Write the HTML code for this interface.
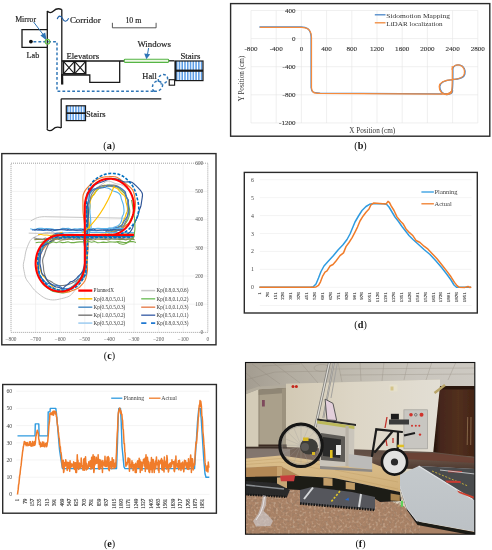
<!DOCTYPE html>
<html><head><meta charset="utf-8"><title>Figure</title>
<style>
html,body{margin:0;padding:0;background:#fff;}
body{width:492px;height:550px;overflow:hidden;}
svg{display:block;}
</style></head><body>
<svg width="492" height="550" viewBox="0 0 492 550" font-family='"Liberation Serif", serif'>
<rect width="492" height="550" fill="#fff"/>
<!--A-->
<rect x="230.6" y="3.6" width="259.2" height="132.6" fill="#fff" stroke="#2b2b2b" stroke-width="1.4"/>
<g stroke="#e4e4e4" stroke-width="0.6" fill="none">
<path d="M251.00,10.48 V122.96"/>
<path d="M276.20,10.48 V122.96"/>
<path d="M301.40,10.48 V122.96"/>
<path d="M326.60,10.48 V122.96"/>
<path d="M351.80,10.48 V122.96"/>
<path d="M377.00,10.48 V122.96"/>
<path d="M402.20,10.48 V122.96"/>
<path d="M427.40,10.48 V122.96"/>
<path d="M452.60,10.48 V122.96"/>
<path d="M477.80,10.48 V122.96"/>
<path d="M251.00,122.96 H477.80"/>
<path d="M251.00,94.84 H477.80"/>
<path d="M251.00,66.72 H477.80"/>
<path d="M251.00,38.60 H477.80"/>
<path d="M251.00,10.48 H477.80"/>
</g>
<path d="M259.42,27.00 L299.74,27.00 C306.04,26.65 310.76,28.41 311.08,36.84 L311.08,87.46 C311.39,92.38 312.97,92.73 319.90,93.08 L441.49,93.79 L441.5,93.3" fill="none" stroke="#4a8ad0" stroke-width="1.3"/>
<path d="M442.10,93.60 C446.60,93.80 449.60,94.50 452.10,91.00 C453.10,88.00 452.90,72.00 452.90,68.50 C453.60,65.50 457.10,64.50 460.10,65.20 C464.10,66.20 465.80,70.00 464.90,74.00 C464.10,78.00 458.60,79.30 452.60,79.60 C446.60,80.00 440.40,81.50 439.80,86.50 C439.60,91.00 443.10,94.60 447.10,94.60 C450.10,94.60 452.40,93.00 452.80,90.50" fill="none" stroke="#4a86c8" stroke-width="1.3"/>
<path d="M259.82,27.35 L300.14,27.35 C306.44,27.00 311.16,28.76 311.48,37.19 L311.48,87.81 C311.79,92.73 313.37,93.08 320.30,93.43 L441.89,94.14 L441.5,93.6" fill="none" stroke="#f68b3c" stroke-width="1.25"/>
<path d="M441.50,93.60 C446.00,93.80 449.00,94.50 451.50,91.00 C452.50,88.00 452.30,72.00 452.30,68.50 C453.00,65.50 456.50,64.50 459.50,65.20 C463.50,66.20 465.20,70.00 464.30,74.00 C463.50,78.00 458.00,79.30 452.00,79.60 C446.00,80.00 439.80,81.50 439.20,86.50 C439.00,91.00 442.50,94.60 446.50,94.60 C449.50,94.60 451.80,93.00 452.20,90.50" fill="none" stroke="#f68b3c" stroke-width="1.25"/>
<path d="M452.2,66 V70" stroke="#f68b3c" stroke-width="1.1"/>
<g font-family='"Liberation Serif", serif' stroke="#333" stroke-width="0.12">
<text x="295.60" y="12.88" font-size="7.1" text-anchor="end" fill="#333" font-weight="normal">400</text>
<text x="295.60" y="41.00" font-size="7.1" text-anchor="end" fill="#333" font-weight="normal">0</text>
<text x="295.60" y="69.12" font-size="7.1" text-anchor="end" fill="#333" font-weight="normal">-400</text>
<text x="295.60" y="97.24" font-size="7.1" text-anchor="end" fill="#333" font-weight="normal">-800</text>
<text x="295.60" y="125.36" font-size="7.1" text-anchor="end" fill="#333" font-weight="normal">-1200</text>
<text x="251.00" y="51.00" font-size="7.1" text-anchor="middle" fill="#333" font-weight="normal">-800</text>
<text x="276.20" y="51.00" font-size="7.1" text-anchor="middle" fill="#333" font-weight="normal">-400</text>
<text x="301.40" y="51.00" font-size="7.1" text-anchor="middle" fill="#333" font-weight="normal">0</text>
<text x="326.60" y="51.00" font-size="7.1" text-anchor="middle" fill="#333" font-weight="normal">400</text>
<text x="351.80" y="51.00" font-size="7.1" text-anchor="middle" fill="#333" font-weight="normal">800</text>
<text x="377.00" y="51.00" font-size="7.1" text-anchor="middle" fill="#333" font-weight="normal">1200</text>
<text x="402.20" y="51.00" font-size="7.1" text-anchor="middle" fill="#333" font-weight="normal">1600</text>
<text x="427.40" y="51.00" font-size="7.1" text-anchor="middle" fill="#333" font-weight="normal">2000</text>
<text x="452.60" y="51.00" font-size="7.1" text-anchor="middle" fill="#333" font-weight="normal">2400</text>
<text x="477.80" y="51.00" font-size="7.1" text-anchor="middle" fill="#333" font-weight="normal">2800</text>
</g>
<text x="372.20" y="133.20" font-size="7.2" text-anchor="middle" fill="#333" font-weight="normal" textLength="46" lengthAdjust="spacingAndGlyphs">X Position (cm)</text>
<text x="0" y="0" font-size="7.2" fill="#333" text-anchor="middle" textLength="45.4" lengthAdjust="spacingAndGlyphs" transform="translate(244.3,78.6) rotate(-90)">Y Position (cm)</text>
<path d="M374.8,14.8 H385.5" stroke="#4a86c8" stroke-width="1.3"/>
<path d="M374.8,22.8 H385.5" stroke="#f0883a" stroke-width="1.3"/>
<text x="386.30" y="17.90" font-size="7.1" text-anchor="start" fill="#333" font-weight="normal" textLength="63.6" lengthAdjust="spacingAndGlyphs">Sidomotion Mapping</text>
<text x="386.30" y="25.90" font-size="7.1" text-anchor="start" fill="#333" font-weight="normal" textLength="56.3" lengthAdjust="spacingAndGlyphs">LiDAR localization</text>
<rect x="1.8" y="153.6" width="214.2" height="191.2" fill="#fff" stroke="#2b2b2b" stroke-width="1.4"/>
<g stroke="#e6e6e6" stroke-width="0.5" fill="none">
<path d="M35.60,163.20 V332.40"/>
<path d="M60.20,163.20 V332.40"/>
<path d="M84.80,163.20 V332.40"/>
<path d="M109.40,163.20 V332.40"/>
<path d="M134.00,163.20 V332.40"/>
<path d="M158.60,163.20 V332.40"/>
<path d="M183.20,163.20 V332.40"/>
<path d="M11.00,304.20 H207.80"/>
<path d="M11.00,276.00 H207.80"/>
<path d="M11.00,247.80 H207.80"/>
<path d="M11.00,219.60 H207.80"/>
<path d="M11.00,191.40 H207.80"/>
</g>
<rect x="11.00" y="163.20" width="196.80" height="169.20" fill="none" stroke="#7a7a7a" stroke-width="0.7" stroke-dasharray="1 1"/>
<path d="M28.71,233.14 L134.01,235.47 L131.47,235.45 L128.95,235.45 L126.47,235.45 L124.01,235.47 L121.57,235.48 L119.11,235.49 L116.62,235.48 L114.10,235.46 L111.56,235.42 L109.04,235.38 L106.55,235.34 L104.10,235.30 L101.66,235.28 L99.21,235.26 L96.74,235.26 L94.25,235.27 L91.75,235.30 L89.27,235.33 L86.83,235.37 L84.43,235.42 L82.04,235.48 L79.65,235.54 L77.23,235.59 L74.78,235.65 L72.29,235.69 L69.81,235.71 L67.34,235.71 L64.89,235.69 L62.45,235.65 L54.57,232.73 L52.68,232.47 L50.66,232.32 L48.56,232.33 L46.49,232.51 L44.53,232.88 L42.74,233.41 L41.09,234.07 L39.51,234.79 L37.94,235.54 L36.37,236.28 L34.84,237.01 L33.42,237.73 L32.20,238.49 L31.19,239.36 L30.37,240.39 L29.64,241.65 L28.92,243.14 L28.16,244.86 L27.37,246.77 L26.63,248.81 L26.00,250.89 L25.53,252.93 L25.19,254.88 L24.90,256.70 L24.61,258.39 L24.25,259.99 L23.87,261.53 L23.54,263.07 L23.34,264.65 L23.34,266.31 L23.53,268.05 L23.85,269.84 L24.21,271.66 L24.56,273.45 L24.91,275.17 L25.31,276.80 L25.85,278.32 L26.58,279.75 L27.48,281.09 L28.48,282.39 L29.50,283.67 L30.48,284.95 L31.40,286.24 L32.34,287.55 L33.36,288.86 L34.55,290.17 L35.90,291.47 L37.37,292.73 L38.88,293.94 L40.37,295.10 L41.83,296.19 L43.30,297.19 L44.87,298.07 L46.60,298.81 L48.49,299.37 L50.49,299.75 L52.49,299.93 L54.41,299.92 L56.22,299.74 L57.93,299.45 L59.62,299.08 L61.34,298.66 L63.10,298.23 L64.85,297.78 L66.51,297.31 L68.00,296.77 L69.29,296.12 L70.43,295.32 L71.50,294.34 L72.59,293.17 L73.74,291.84 L74.92,290.41 L76.08,288.93 L77.14,287.48 L78.07,286.12 L78.91,284.86 L79.72,283.72 L80.58,282.66 L81.53,281.61 L82.53,280.52 L83.51,279.29 L84.36,277.90 L85.04,276.31 L85.54,274.53 L85.94,272.61 L86.29,270.61 L86.65,268.58 L86.99,266.58 L87.25,264.66 L87.40,261.16 L87.42,257.72 L87.34,254.32 L87.22,250.91 L87.16,247.45 L87.21,243.91 L87.37,240.30 L87.59,236.61 L87.77,232.89 L85.40,232.55 L85.40,229.70 L85.35,226.91 L85.34,224.20 L85.42,221.58 L85.59,219.03 L85.79,216.56 L85.93,214.14 L85.94,211.77 L85.82,209.42 L85.63,207.10 L85.48,206.04 L85.49,204.98 L85.67,203.90 L86.00,202.77 L86.39,201.59 L86.80,200.34 L87.20,199.01 L87.64,197.63 L88.22,196.21 L89.00,194.80 L90.00,193.44 L91.17,192.17 L92.42,191.01 L93.66,189.98 L94.84,189.05 L95.99,188.19 L97.16,187.36 L98.43,186.53 L99.79,185.65 L101.21,184.74 L102.60,183.82 L103.89,182.93 L105.02,182.15 L106.03,181.54 L107.00,181.14 L108.02,181.00 L109.13,181.09 L110.32,181.39 L111.53,181.83 L112.67,182.34 L113.72,182.83 L114.70,183.27 L115.69,183.61 L116.75,183.86 L117.93,184.07 L119.22,184.28 L120.54,184.55 L121.78,184.94 L122.90,185.47 L123.89,186.15 L124.81,186.95 L125.74,187.84 L126.72,188.77 L127.74,189.71 L128.73,190.61 L129.63,191.46 L130.36,192.29 L130.93,193.12 L131.41,193.98 L131.88,194.91 L132.41,195.94 L133.00,197.08 L133.59,198.34 L134.10,199.71 L134.46,201.17 L134.65,202.71 L134.72,204.29 L134.75,205.90 L134.78,207.54 L134.83,209.17 L134.85,210.79 L134.73,212.37 L134.41,213.89 L133.87,215.33 L133.16,216.66 L132.38,217.88 L131.60,219.00 L130.86,220.02 L130.12,220.99 L129.33,221.94 L128.43,222.89 L127.40,223.86 L126.30,224.85 L125.21,225.84 L124.22,226.79 L123.37,227.66 L122.62,228.40 L121.88,228.99 L121.09,229.43 L120.18,229.72 L119.19,229.93 L118.17,230.11 L117.20,230.32 L116.31,230.61 L115.45,231.01 L114.55,231.51 L113.54,232.06 L112.36,232.61 L111.04,233.08 L110.96,233.43 L110.91,233.64 L110.94,233.70 L111.05,233.60 L111.17,233.38 L111.23,233.11 L111.19,232.84 L111.06,232.62 L110.92,232.48 L110.85,232.44 L110.91,232.46" fill="none" stroke="#bdbdbd" stroke-width="0.9" stroke-linejoin="round" opacity="1"/>
<path d="M30.68,221.01 C35.60,218.19 38.06,216.22 47.90,216.78 L126.62,218.19" fill="none" stroke="#bdbdbd" stroke-width="0.9"/>
<path d="M133.77,236.01 L131.32,236.01 L128.89,236.01 L126.48,236.00 L124.09,235.99 L121.71,235.98 L119.35,235.99 L116.98,236.03 L114.60,236.09 L112.21,236.18 L109.79,236.27 L107.36,236.34 L104.90,236.39 L102.44,236.41 L99.96,236.42 L97.49,236.41 L95.02,236.41 L92.55,236.42 L90.10,236.43 L87.65,236.44 L85.21,236.43 L82.77,236.39 L80.33,236.34 L77.90,236.29 L75.45,236.26 L73.01,236.24 L70.56,236.26 L68.12,236.29 L65.67,236.32 L63.22,236.35 L63.36,234.34 L62.03,234.36 L60.69,234.43 L59.33,234.61 L57.94,234.95 L56.51,235.44 L55.07,236.05 L53.60,236.71 L52.14,237.39 L50.71,238.05 L49.33,238.73 L48.03,239.49 L46.83,240.42 L45.74,241.54 L44.76,242.86 L43.88,244.31 L43.09,245.82 L42.35,247.32 L41.65,248.77 L40.96,250.17 L40.26,251.57 L39.56,253.01 L38.85,254.52 L38.16,256.08 L37.51,257.62 L36.93,259.09 L36.44,260.42 L36.07,261.63 L35.83,262.74 L35.73,263.85 L35.76,265.03 L35.90,266.32 L36.15,267.73 L36.47,269.19 L36.86,270.66 L37.30,272.07 L37.78,273.41 L38.30,274.72 L38.87,276.05 L39.49,277.44 L40.16,278.89 L40.90,280.38 L41.69,281.82 L42.54,283.15 L43.44,284.30 L44.38,285.28 L45.36,286.13 L46.36,286.92 L47.40,287.72 L48.47,288.55 L49.59,289.38 L50.76,290.17 L52.00,290.85 L53.31,291.38 L54.69,291.76 L56.12,292.03 L57.60,292.26 L59.08,292.48 L60.56,292.70 L61.99,292.87 L63.36,292.91 L64.66,292.76 L65.87,292.37 L67.01,291.77 L68.09,291.01 L69.14,290.17 L70.18,289.31 L71.24,288.47 L72.32,287.63 L73.45,286.73 L74.60,285.74 L75.77,284.64 L76.93,283.48 L78.06,282.30 L79.12,281.18 L80.10,280.16 L80.97,279.24 L81.73,278.35 L82.38,277.43 L82.93,276.39 L83.40,275.20 L83.79,273.89 L84.12,272.49 L84.41,271.08 L84.66,269.70 L84.86,268.34 L85.01,266.97 L85.11,265.53 L85.15,263.99 L85.12,262.34 L85.07,259.31 L85.03,256.28 L85.00,253.34 L85.00,250.51 L85.03,247.79 L85.08,245.11 L85.16,242.41 L85.26,239.62 L85.35,236.72 L87.89,230.93 L87.93,228.36 L87.93,225.84 L87.89,223.38 L87.80,220.98 L87.69,218.59 L87.57,216.16 L87.46,213.64 L87.40,211.06 L87.40,208.47 L87.48,205.95 L87.66,204.70 L87.96,203.61 L88.37,202.67 L88.86,201.82 L89.39,200.99 L89.94,200.12 L90.48,199.20 L91.01,198.26 L91.52,197.36 L92.02,196.54 L92.52,195.80 L93.05,195.11 L93.63,194.39 L94.28,193.59 L95.01,192.68 L95.82,191.67 L96.72,190.64 L97.68,189.67 L98.70,188.83 L99.76,188.14 L100.84,187.59 L101.93,187.11 L103.01,186.67 L104.10,186.22 L105.18,185.78 L106.27,185.41 L107.35,185.17 L108.44,185.09 L109.53,185.16 L110.61,185.35 L111.66,185.57 L112.69,185.77 L113.67,185.91 L114.62,186.04 L115.52,186.20 L116.40,186.48 L117.25,186.93 L118.11,187.55 L118.98,188.31 L119.88,189.14 L120.80,189.99 L121.75,190.84 L122.71,191.71 L123.65,192.64 L124.55,193.68 L125.37,194.87 L126.11,196.15 L126.73,197.48 L127.23,198.76 L127.63,199.92 L127.92,200.95 L128.14,201.86 L128.32,202.74 L128.47,203.63 L128.63,204.59 L128.80,205.62 L128.99,206.67 L129.19,207.69 L129.39,208.65 L129.56,209.55 L129.67,210.44 L129.71,211.39 L129.67,212.46 L129.53,213.67 L129.30,214.99 L128.99,216.34 L128.60,217.64 L128.14,218.84 L127.64,219.92 L127.10,220.90 L126.52,221.85 L125.91,222.81 L125.26,223.81 L124.57,224.82 L123.84,225.77 L123.08,226.61 L122.27,227.31 L121.44,227.89 L120.59,228.38 L119.74,228.87 L118.90,229.40 L118.06,229.99 L117.23,230.60 L116.39,231.15 L115.54,231.56 L114.65,231.80 L113.70,231.85 L112.69,231.76 L111.61,231.60 L111.50,231.43 L111.33,231.31 L111.13,231.20 L110.92,231.05 L110.72,230.81 L110.57,230.47 L110.47,230.06 L110.45,229.67 L110.49,229.37 L110.57,229.22 L110.69,229.24" fill="none" stroke="#70ad47" stroke-width="1.15" stroke-linejoin="round" opacity="1"/>
<path d="M133.91,233.75 L131.33,233.76 L128.75,233.79 L126.19,233.85 L123.69,233.93 L121.24,234.01 L118.83,234.07 L116.44,234.11 L114.03,234.12 L111.60,234.12 L109.16,234.11 L106.71,234.11 L104.27,234.12 L101.84,234.17 L99.41,234.23 L96.95,234.30 L94.45,234.37 L91.93,234.44 L89.40,234.49 L86.91,234.53 L84.45,234.56 L82.03,234.60 L79.62,234.62 L77.20,234.65 L74.75,234.66 L72.27,234.65 L69.77,234.63 L67.28,234.60 L64.81,234.56 L62.36,234.54 L61.20,237.83 L59.91,237.93 L58.59,238.19 L57.29,238.57 L56.10,238.98 L55.08,239.37 L54.23,239.69 L53.51,239.95 L52.81,240.18 L52.04,240.46 L51.15,240.85 L50.16,241.40 L49.14,242.14 L48.16,243.04 L47.25,244.05 L46.39,245.14 L45.52,246.26 L44.62,247.41 L43.70,248.58 L42.81,249.80 L42.04,251.07 L41.42,252.39 L40.94,253.74 L40.54,255.09 L40.13,256.41 L39.63,257.69 L39.07,258.95 L38.49,260.23 L38.00,261.59 L37.67,263.07 L37.52,264.67 L37.51,266.36 L37.58,268.09 L37.72,269.76 L37.91,271.32 L38.23,272.71 L38.71,273.93 L39.37,275.03 L40.14,276.07 L40.94,277.11 L41.66,278.21 L42.27,279.36 L42.80,280.55 L43.32,281.73 L43.93,282.86 L44.67,283.92 L45.53,284.88 L46.47,285.78 L47.42,286.61 L48.36,287.40 L49.31,288.14 L50.33,288.81 L51.46,289.37 L52.70,289.81 L53.99,290.13 L55.25,290.35 L56.42,290.52 L57.49,290.72 L58.55,290.97 L59.67,291.29 L60.95,291.66 L62.41,292.00 L63.98,292.23 L65.60,292.30 L67.20,292.17 L68.74,291.83 L70.24,291.35 L71.75,290.78 L73.29,290.18 L74.80,289.60 L76.23,289.05 L77.49,288.50 L78.55,287.91 L79.43,287.24 L80.23,286.47 L81.03,285.60 L81.90,284.64 L82.81,283.62 L83.72,282.54 L84.53,281.39 L85.19,280.15 L85.71,278.80 L86.13,277.31 L86.51,275.69 L86.88,274.00 L87.20,272.27 L87.41,270.59 L87.48,269.01 L87.39,267.53 L87.21,266.13 L87.07,263.42 L87.07,260.66 L87.24,257.78 L87.52,254.76 L87.82,251.61 L88.04,248.39 L88.15,245.16 L88.15,241.99 L88.09,238.91 L84.84,233.12 L84.79,230.22 L84.70,227.37 L84.53,224.53 L84.24,221.68 L83.86,218.83 L83.47,215.98 L83.16,213.16 L82.98,210.37 L82.93,207.60 L82.93,204.80 L82.94,203.28 L82.91,201.69 L82.86,200.04 L82.83,198.38 L82.90,196.76 L83.12,195.25 L83.49,193.90 L83.98,192.71 L84.54,191.64 L85.13,190.64 L85.81,189.62 L86.63,188.52 L87.66,187.33 L88.89,186.06 L90.27,184.77 L91.70,183.53 L93.07,182.39 L94.32,181.39 L95.48,180.54 L96.62,179.81 L97.79,179.18 L99.05,178.60 L100.36,178.08 L101.69,177.63 L102.98,177.26 L104.24,176.99 L105.51,176.82 L106.85,176.73 L108.32,176.70 L109.89,176.69 L111.49,176.68 L113.03,176.68 L114.44,176.75 L115.71,176.94 L116.89,177.32 L118.08,177.91 L119.34,178.73 L120.70,179.73 L122.11,180.83 L123.50,181.96 L124.83,183.04 L126.10,184.06 L127.32,185.04 L128.56,186.01 L129.82,187.03 L131.05,188.16 L132.16,189.42 L133.05,190.79 L133.69,192.25 L134.11,193.76 L134.38,195.27 L134.61,196.79 L134.86,198.31 L135.11,199.84 L135.34,201.40 L135.46,202.97 L135.45,204.53 L135.34,206.02 L135.18,207.41 L135.01,208.69 L134.85,209.86 L134.65,210.98 L134.33,212.10 L133.84,213.29 L133.17,214.58 L132.41,215.97 L131.63,217.41 L130.94,218.82 L130.35,220.13 L129.83,221.29 L129.29,222.27 L128.66,223.10 L127.92,223.83 L127.07,224.52 L126.18,225.23 L125.27,225.96 L124.32,226.73 L123.29,227.49 L122.11,228.22 L120.75,228.89 L119.24,229.51 L117.68,230.07 L116.18,230.60 L114.80,231.10 L113.54,231.57 L112.34,231.97 L111.12,232.25 L109.84,232.38 L108.48,232.35 L108.47,232.21 L108.51,232.06 L108.61,231.95 L108.76,231.96 L108.91,232.11 L109.00,232.39 L109.02,232.76 L109.03,233.13 L109.10,233.42 L109.32,233.60 L109.69,233.64" fill="none" stroke="#ed7d31" stroke-width="1.15" stroke-linejoin="round" opacity="1"/>
<path d="M133.73,235.97 L131.40,235.98 L129.04,235.98 L126.64,235.95 L124.22,235.89 L121.80,235.81 L119.40,235.76 L117.01,235.77 L114.63,235.83 L112.25,235.89 L109.86,235.90 L107.47,235.86 L105.09,235.78 L102.73,235.70 L100.35,235.64 L97.95,235.59 L95.49,235.54 L92.96,235.48 L90.39,235.41 L87.80,235.38 L85.23,235.41 L82.72,235.48 L80.26,235.53 L77.84,235.54 L75.41,235.48 L72.94,235.41 L70.40,235.35 L67.80,235.33 L65.18,235.36 L62.57,235.39 L62.49,232.42 L61.06,232.59 L59.76,232.95 L58.53,233.55 L57.32,234.32 L56.10,235.03 L54.90,235.53 L53.74,235.82 L52.62,236.08 L51.52,236.57 L50.39,237.40 L49.22,238.50 L48.03,239.68 L46.88,240.80 L45.87,241.85 L45.08,242.94 L44.51,244.13 L44.09,245.39 L43.69,246.55 L43.19,247.50 L42.52,248.27 L41.68,249.08 L40.81,250.15 L40.03,251.57 L39.47,253.22 L39.19,254.87 L39.12,256.36 L39.19,257.67 L39.26,258.92 L39.30,260.25 L39.28,261.65 L39.26,263.00 L39.31,264.23 L39.46,265.36 L39.72,266.57 L40.08,268.06 L40.51,269.84 L41.03,271.76 L41.68,273.56 L42.50,275.06 L43.50,276.29 L44.63,277.40 L45.80,278.57 L46.89,279.83 L47.84,281.07 L48.66,282.20 L49.42,283.22 L50.27,284.25 L51.32,285.43 L52.61,286.74 L54.07,288.01 L55.60,289.01 L57.02,289.58 L58.26,289.81 L59.27,289.91 L60.14,290.08 L60.95,290.37 L61.81,290.67 L62.76,290.86 L63.79,290.87 L64.84,290.82 L65.87,290.79 L66.87,290.81 L67.85,290.71 L68.83,290.31 L69.82,289.53 L70.77,288.49 L71.65,287.44 L72.41,286.60 L73.05,285.99 L73.63,285.45 L74.28,284.82 L75.09,284.00 L76.09,283.06 L77.26,282.13 L78.46,281.23 L79.56,280.26 L80.44,279.08 L81.08,277.65 L81.54,276.10 L81.95,274.67 L82.43,273.53 L83.06,272.65 L83.81,271.83 L84.60,270.85 L85.32,269.61 L85.90,268.19 L86.31,266.74 L86.56,265.35 L86.70,263.95 L86.79,261.17 L86.86,258.24 L86.89,255.27 L86.86,252.46 L86.81,249.91 L86.77,247.56 L86.82,245.19 L86.99,242.56 L87.26,239.61 L89.52,233.64 L89.71,230.91 L89.72,228.31 L89.52,225.81 L89.18,223.30 L88.83,220.72 L88.63,218.15 L88.66,215.72 L88.90,213.52 L89.27,211.47 L89.64,209.35 L89.90,208.01 L90.04,206.40 L90.08,204.67 L90.11,203.07 L90.21,201.74 L90.44,200.65 L90.78,199.65 L91.21,198.63 L91.68,197.60 L92.18,196.69 L92.73,195.94 L93.34,195.31 L94.00,194.58 L94.68,193.63 L95.32,192.47 L95.83,191.30 L96.19,190.36 L96.47,189.78 L96.76,189.46 L97.19,189.21 L97.84,188.87 L98.72,188.43 L99.72,187.99 L100.71,187.65 L101.57,187.38 L102.24,187.05 L102.75,186.56 L103.21,185.94 L103.76,185.41 L104.50,185.18 L105.44,185.33 L106.54,185.73 L107.71,186.13 L108.87,186.37 L110.00,186.45 L111.10,186.52 L112.19,186.70 L113.29,187.03 L114.38,187.41 L115.42,187.76 L116.39,188.10 L117.30,188.60 L118.20,189.42 L119.16,190.60 L120.23,191.95 L121.40,193.23 L122.61,194.27 L123.71,195.11 L124.58,195.93 L125.15,196.92 L125.46,198.11 L125.61,199.42 L125.75,200.71 L125.98,201.98 L126.36,203.33 L126.80,204.88 L127.21,206.62 L127.46,208.37 L127.49,209.90 L127.30,211.09 L126.96,212.03 L126.54,212.93 L126.10,214.01 L125.66,215.31 L125.21,216.70 L124.72,218.01 L124.21,219.20 L123.69,220.33 L123.21,221.50 L122.77,222.72 L122.35,223.86 L121.87,224.74 L121.23,225.29 L120.39,225.64 L119.37,226.04 L118.27,226.69 L117.22,227.58 L116.33,228.57 L115.64,229.43 L115.08,230.08 L114.53,230.59 L113.84,231.07 L112.93,231.57 L111.78,232.01 L110.48,232.26 L109.15,232.28 L107.90,232.19 L106.77,232.22 L105.75,232.52 L105.76,233.07 L105.77,233.68 L105.74,234.13 L105.69,234.32 L105.64,234.34 L105.60,234.34 L105.56,234.42 L105.48,234.55 L105.33,234.60 L105.13,234.52 L104.92,234.42" fill="none" stroke="#ffc000" stroke-width="1.15" stroke-linejoin="round" opacity="1"/>
<path d="M134.67,232.66 L132.32,232.64 L129.89,232.61 L127.40,232.57 L124.86,232.53 L122.33,232.51 L119.82,232.52 L117.33,232.55 L114.85,232.58 L112.35,232.59 L109.83,232.57 L107.31,232.53 L104.81,232.46 L102.35,232.41 L99.92,232.37 L97.48,232.35 L95.00,232.34 L92.45,232.34 L89.85,232.32 L87.24,232.29 L84.65,232.27 L82.11,232.27 L79.62,232.30 L77.14,232.38 L74.65,232.48 L72.15,232.58 L69.66,232.68 L67.20,232.75 L64.79,232.79 L62.39,232.82 L60.69,235.91 L59.45,236.14 L58.02,236.48 L56.49,236.85 L54.99,237.20 L53.65,237.47 L52.52,237.69 L51.54,237.92 L50.61,238.27 L49.65,238.82 L48.66,239.59 L47.71,240.52 L46.87,241.52 L46.15,242.51 L45.48,243.44 L44.74,244.35 L43.86,245.29 L42.85,246.33 L41.82,247.51 L40.92,248.79 L40.26,250.11 L39.84,251.38 L39.58,252.56 L39.35,253.69 L39.10,254.83 L38.84,256.11 L38.65,257.57 L38.57,259.23 L38.62,261.02 L38.71,262.84 L38.74,264.62 L38.67,266.31 L38.55,267.93 L38.49,269.55 L38.64,271.21 L39.07,272.92 L39.74,274.61 L40.52,276.20 L41.31,277.58 L42.03,278.73 L42.72,279.68 L43.46,280.52 L44.29,281.34 L45.20,282.22 L46.12,283.17 L46.94,284.11 L47.65,284.99 L48.32,285.73 L49.07,286.35 L50.03,286.89 L51.22,287.43 L52.56,288.02 L53.91,288.67 L55.14,289.30 L56.24,289.82 L57.24,290.16 L58.23,290.27 L59.27,290.20 L60.34,290.05 L61.36,289.90 L62.26,289.81 L63.04,289.78 L63.80,289.72 L64.66,289.58 L65.71,289.30 L66.95,288.91 L68.26,288.45 L69.49,288.01 L70.55,287.62 L71.44,287.27 L72.24,286.89 L73.04,286.35 L73.89,285.57 L74.77,284.54 L75.60,283.30 L76.32,281.94 L76.96,280.55 L77.62,279.17 L78.39,277.78 L79.34,276.34 L80.42,274.79 L81.47,273.10 L82.37,271.34 L83.03,269.59 L83.49,267.95 L83.84,266.46 L84.18,265.12 L84.56,263.85 L84.92,262.55 L85.19,261.15 L85.36,258.37 L85.48,255.54 L85.64,252.71 L85.95,249.98 L86.41,247.34 L86.93,244.76 L87.38,242.16 L87.62,239.48 L87.62,236.71 L91.15,227.41 L90.93,225.21 L90.77,223.13 L90.69,221.23 L90.64,219.45 L90.53,217.71 L90.33,215.91 L90.10,213.98 L89.92,211.91 L89.86,209.75 L89.91,207.57 L90.00,206.42 L90.02,205.31 L89.87,204.19 L89.56,202.98 L89.21,201.64 L88.96,200.18 L88.89,198.67 L89.01,197.23 L89.24,195.96 L89.52,194.90 L89.80,194.03 L90.13,193.28 L90.61,192.54 L91.27,191.80 L92.08,191.04 L92.93,190.34 L93.67,189.77 L94.26,189.36 L94.74,189.09 L95.24,188.87 L95.89,188.63 L96.75,188.29 L97.79,187.88 L98.90,187.45 L100.00,187.12 L101.07,186.97 L102.14,187.01 L103.29,187.20 L104.54,187.47 L105.84,187.74 L107.06,187.96 L108.09,188.17 L108.92,188.43 L109.62,188.80 L110.33,189.31 L111.18,189.90 L112.19,190.50 L113.29,191.01 L114.39,191.39 L115.37,191.65 L116.24,191.87 L117.05,192.17 L117.88,192.63 L118.72,193.26 L119.53,194.03 L120.20,194.86 L120.64,195.70 L120.89,196.54 L121.03,197.42 L121.24,198.43 L121.59,199.61 L122.10,200.97 L122.65,202.46 L123.13,203.97 L123.46,205.39 L123.64,206.66 L123.76,207.81 L123.87,208.89 L123.98,210.00 L124.02,211.18 L123.91,212.44 L123.59,213.71 L123.11,214.91 L122.59,216.00 L122.18,216.98 L121.94,217.90 L121.81,218.86 L121.68,219.91 L121.41,221.05 L120.96,222.22 L120.34,223.31 L119.66,224.22 L118.97,224.92 L118.28,225.44 L117.52,225.85 L116.61,226.24 L115.55,226.66 L114.39,227.10 L113.28,227.49 L112.33,227.78 L111.57,227.94 L110.91,227.99 L110.22,228.02 L109.39,228.13 L108.39,228.38 L107.29,228.76 L106.17,229.20 L105.13,229.60 L104.15,229.86 L104.07,229.98 L103.93,230.02 L103.72,230.04 L103.54,230.10 L103.49,230.22 L103.66,230.36 L104.04,230.45 L104.51,230.40 L104.92,230.20 L105.17,229.89 L105.26,229.55" fill="none" stroke="#5bb4ec" stroke-width="1.15" stroke-linejoin="round" opacity="1"/>
<path d="M133.78,237.06 L131.37,237.01 L128.94,236.99 L126.48,236.98 L123.99,236.98 L121.51,236.99 L119.06,236.98 L116.67,236.97 L114.33,236.96 L112.02,236.93 L109.69,236.92 L107.31,236.90 L104.89,236.90 L102.44,236.91 L99.98,236.92 L97.54,236.94 L95.10,236.95 L92.65,236.97 L90.18,236.97 L87.69,236.98 L85.20,237.00 L82.74,237.02 L80.32,237.07 L77.94,237.13 L75.55,237.21 L73.13,237.30 L70.65,237.40 L68.12,237.49 L65.56,237.57 L63.01,237.63 L64.85,236.61 L63.58,236.72 L62.37,236.83 L61.14,236.98 L59.91,237.19 L58.70,237.49 L57.60,237.89 L56.63,238.38 L55.77,238.94 L54.92,239.56 L53.97,240.21 L52.88,240.89 L51.68,241.60 L50.50,242.37 L49.46,243.20 L48.64,244.13 L48.01,245.15 L47.50,246.27 L47.01,247.44 L46.51,248.65 L46.00,249.84 L45.56,250.99 L45.22,252.07 L44.94,253.10 L44.67,254.10 L44.31,255.10 L43.85,256.15 L43.33,257.29 L42.89,258.52 L42.63,259.86 L42.61,261.29 L42.79,262.76 L43.05,264.25 L43.29,265.71 L43.44,267.13 L43.54,268.49 L43.66,269.80 L43.86,271.07 L44.15,272.31 L44.47,273.54 L44.78,274.74 L45.05,275.90 L45.35,276.99 L45.77,277.98 L46.42,278.85 L47.31,279.60 L48.36,280.23 L49.46,280.78 L50.48,281.29 L51.38,281.79 L52.20,282.31 L53.03,282.87 L53.95,283.45 L55.00,284.03 L56.12,284.57 L57.26,285.02 L58.39,285.35 L59.52,285.54 L60.73,285.60 L62.08,285.53 L63.56,285.38 L65.10,285.17 L66.54,284.93 L67.80,284.67 L68.85,284.39 L69.75,284.08 L70.63,283.71 L71.58,283.28 L72.63,282.77 L73.74,282.21 L74.81,281.61 L75.80,281.00 L76.71,280.41 L77.58,279.85 L78.48,279.31 L79.39,278.79 L80.26,278.24 L80.97,277.61 L81.46,276.88 L81.74,276.00 L81.91,274.97 L82.09,273.80 L82.38,272.53 L82.82,271.20 L83.31,269.84 L83.77,268.49 L84.10,267.18 L84.30,265.89 L84.42,264.61 L84.51,263.31 L84.64,260.77 L84.78,258.17 L84.86,255.52 L84.83,252.84 L84.72,250.13 L84.61,247.43 L84.63,244.74 L84.85,242.06 L85.25,239.39 L86.96,234.71 L87.40,232.16 L87.69,229.52 L87.83,226.80 L87.88,223.99 L87.93,221.14 L88.01,218.28 L88.12,215.46 L88.19,212.72 L88.17,210.10 L88.09,207.59 L88.04,206.31 L88.16,205.10 L88.48,203.94 L88.97,202.78 L89.53,201.60 L90.01,200.41 L90.36,199.20 L90.57,198.00 L90.76,196.84 L91.02,195.73 L91.44,194.69 L92.00,193.70 L92.65,192.77 L93.32,191.86 L94.01,190.96 L94.76,190.06 L95.65,189.18 L96.70,188.33 L97.86,187.56 L99.04,186.89 L100.12,186.36 L101.04,185.99 L101.85,185.75 L102.66,185.62 L103.60,185.56 L104.72,185.53 L106.01,185.49 L107.36,185.42 L108.70,185.32 L109.97,185.21 L111.21,185.12 L112.46,185.09 L113.75,185.16 L115.05,185.34 L116.27,185.64 L117.33,186.05 L118.19,186.54 L118.92,187.11 L119.63,187.72 L120.45,188.39 L121.41,189.13 L122.46,189.95 L123.50,190.88 L124.41,191.92 L125.14,193.08 L125.71,194.34 L126.21,195.66 L126.67,196.99 L127.11,198.30 L127.47,199.56 L127.69,200.74 L127.77,201.87 L127.76,202.95 L127.77,204.04 L127.90,205.17 L128.16,206.37 L128.50,207.65 L128.77,209.01 L128.86,210.41 L128.74,211.82 L128.45,213.20 L128.09,214.53 L127.74,215.78 L127.43,216.96 L127.10,218.09 L126.72,219.17 L126.24,220.22 L125.71,221.24 L125.21,222.22 L124.80,223.15 L124.48,224.00 L124.16,224.73 L123.72,225.35 L123.05,225.85 L122.14,226.26 L121.07,226.62 L119.95,226.96 L118.90,227.33 L117.93,227.76 L117.01,228.25 L116.05,228.78 L115.02,229.32 L113.93,229.83 L112.83,230.27 L111.78,230.60 L110.78,230.82 L109.76,230.94 L108.63,230.96 L107.32,230.93 L106.94,230.90 L106.51,230.92 L106.14,230.99 L105.95,231.10 L105.94,231.23 L106.05,231.37 L106.17,231.49 L106.23,231.60 L106.23,231.71 L106.22,231.84 L106.25,232.02" fill="none" stroke="#7f7f7f" stroke-width="1.15" stroke-linejoin="round" opacity="1"/>
<path d="M134.23,235.86 L131.72,235.85 L129.22,235.86 L126.74,235.89 L124.26,235.93 L121.78,235.95 L119.31,235.95 L116.88,235.94 L114.52,235.92 L112.21,235.91 L109.88,235.92 L107.50,235.94 L105.02,235.97 L102.49,235.98 L99.97,235.97 L97.51,235.93 L95.14,235.89 L92.81,235.86 L90.46,235.86 L88.05,235.88 L85.58,235.92 L83.07,235.94 L80.56,235.93 L78.04,235.89 L75.50,235.82 L72.94,235.72 L70.37,235.63 L67.82,235.55 L65.33,235.48 L62.88,235.40 L63.48,234.16 L62.18,233.70 L60.59,233.30 L58.79,233.08 L57.00,233.13 L55.44,233.53 L54.21,234.26 L53.24,235.23 L52.35,236.32 L51.40,237.44 L50.36,238.52 L49.28,239.59 L48.26,240.68 L47.32,241.83 L46.40,243.07 L45.45,244.33 L44.51,245.54 L43.70,246.63 L43.12,247.61 L42.79,248.52 L42.57,249.47 L42.26,250.57 L41.69,251.89 L40.87,253.40 L39.99,255.04 L39.28,256.71 L38.87,258.33 L38.75,259.89 L38.75,261.41 L38.74,262.96 L38.66,264.59 L38.56,266.29 L38.52,268.00 L38.57,269.62 L38.69,271.10 L38.81,272.41 L38.96,273.59 L39.25,274.73 L39.82,275.91 L40.73,277.17 L41.88,278.45 L43.05,279.68 L44.04,280.75 L44.80,281.59 L45.47,282.22 L46.25,282.70 L47.31,283.12 L48.65,283.54 L50.14,284.00 L51.62,284.44 L53.00,284.81 L54.28,285.07 L55.54,285.25 L56.80,285.41 L58.01,285.65 L59.09,286.04 L60.06,286.61 L61.01,287.27 L62.09,287.92 L63.41,288.43 L64.91,288.73 L66.40,288.81 L67.66,288.72 L68.60,288.52 L69.31,288.27 L70.01,287.94 L70.89,287.49 L72.02,286.87 L73.29,286.05 L74.57,285.08 L75.76,284.05 L76.85,283.08 L77.90,282.26 L78.95,281.61 L79.93,281.07 L80.77,280.55 L81.44,279.95 L82.01,279.22 L82.63,278.36 L83.45,277.44 L84.42,276.51 L85.38,275.60 L86.10,274.67 L86.42,273.64 L86.39,272.45 L86.18,271.05 L86.00,269.48 L85.95,267.83 L85.98,266.20 L85.97,264.65 L85.85,261.94 L85.64,259.26 L85.40,256.51 L85.19,253.62 L84.96,250.58 L84.64,247.43 L84.18,244.27 L83.66,241.17 L83.24,238.19 L86.30,228.80 L86.47,226.36 L86.82,223.88 L87.11,221.36 L87.17,218.84 L86.98,216.40 L86.67,214.12 L86.47,212.03 L86.47,210.10 L86.68,208.23 L86.98,206.30 L87.27,205.27 L87.55,204.07 L87.86,202.73 L88.24,201.34 L88.65,199.98 L88.98,198.67 L89.18,197.41 L89.26,196.13 L89.40,194.81 L89.77,193.47 L90.46,192.17 L91.38,191.04 L92.32,190.17 L93.07,189.59 L93.58,189.27 L93.94,189.12 L94.37,189.01 L95.01,188.85 L95.90,188.63 L96.95,188.38 L98.05,188.15 L99.18,187.99 L100.35,187.90 L101.62,187.81 L102.96,187.65 L104.25,187.37 L105.40,186.98 L106.40,186.55 L107.37,186.18 L108.51,185.97 L109.94,185.95 L111.60,186.09 L113.29,186.29 L114.77,186.47 L115.93,186.59 L116.81,186.65 L117.58,186.74 L118.41,186.93 L119.35,187.28 L120.33,187.78 L121.27,188.39 L122.11,189.02 L122.90,189.63 L123.68,190.22 L124.44,190.85 L125.10,191.61 L125.53,192.55 L125.71,193.65 L125.76,194.86 L125.88,196.05 L126.24,197.13 L126.86,198.04 L127.58,198.82 L128.16,199.53 L128.46,200.28 L128.47,201.12 L128.34,202.05 L128.25,203.03 L128.27,204.01 L128.35,204.98 L128.42,205.97 L128.41,207.06 L128.34,208.34 L128.28,209.87 L128.20,211.61 L128.02,213.48 L127.60,215.33 L126.87,217.06 L125.90,218.61 L124.89,219.98 L124.04,221.22 L123.43,222.41 L122.93,223.55 L122.34,224.62 L121.48,225.55 L120.30,226.30 L118.95,226.83 L117.59,227.22 L116.34,227.54 L115.20,227.91 L114.10,228.39 L113.00,228.96 L111.94,229.55 L110.97,230.06 L110.13,230.40 L109.32,230.57 L108.41,230.60 L107.30,230.56 L106.01,230.54 L105.77,230.56 L105.74,230.63 L106.03,230.66 L106.58,230.59 L107.16,230.41 L107.57,230.14 L107.71,229.88 L107.65,229.71 L107.55,229.64 L107.52,229.65 L107.57,229.65" fill="none" stroke="#3a78c2" stroke-width="1.15" stroke-linejoin="round" opacity="1"/>
<path d="M133.42,236.12 L131.09,236.03 L128.72,235.94 L126.30,235.87 L123.83,235.84 L121.34,235.84 L118.87,235.86 L116.44,235.87 L114.07,235.83 L111.74,235.76 L109.42,235.68 L107.07,235.65 L104.68,235.69 L102.24,235.79 L99.76,235.91 L97.26,236.02 L94.78,236.08 L92.30,236.10 L89.83,236.08 L87.36,236.05 L84.89,236.01 L82.41,235.96 L79.96,235.87 L77.55,235.76 L75.20,235.65 L72.89,235.57 L70.61,235.55 L68.30,235.61 L65.94,235.70 L63.50,235.79 L65.27,234.51 L63.78,234.55 L62.27,234.56 L60.85,234.74 L59.54,235.21 L58.32,235.96 L57.11,236.88 L55.83,237.84 L54.45,238.76 L53.01,239.68 L51.55,240.66 L50.13,241.73 L48.79,242.81 L47.49,243.75 L46.20,244.43 L44.90,244.84 L43.58,245.16 L42.33,245.62 L41.27,246.45 L40.51,247.69 L40.08,249.25 L39.98,250.92 L40.08,252.53 L40.24,254.02 L40.34,255.47 L40.32,256.98 L40.19,258.60 L40.04,260.27 L39.95,261.90 L39.99,263.39 L40.17,264.78 L40.44,266.18 L40.75,267.73 L41.06,269.44 L41.38,271.19 L41.76,272.76 L42.24,273.97 L42.84,274.76 L43.55,275.25 L44.27,275.67 L44.93,276.23 L45.47,277.03 L45.91,278.01 L46.35,279.06 L46.91,280.09 L47.71,281.09 L48.80,282.14 L50.14,283.28 L51.62,284.46 L53.10,285.55 L54.48,286.38 L55.71,286.85 L56.79,287.05 L57.80,287.16 L58.78,287.37 L59.74,287.76 L60.68,288.25 L61.53,288.64 L62.28,288.72 L62.94,288.43 L63.58,287.83 L64.28,287.07 L65.10,286.31 L66.07,285.58 L67.11,284.86 L68.13,284.08 L69.02,283.25 L69.72,282.49 L70.27,281.93 L70.76,281.63 L71.33,281.52 L72.10,281.40 L73.09,281.02 L74.28,280.24 L75.57,279.11 L76.87,277.81 L78.09,276.52 L79.22,275.38 L80.27,274.35 L81.27,273.30 L82.23,272.11 L83.09,270.74 L83.81,269.26 L84.31,267.77 L84.59,266.34 L84.69,264.91 L84.72,263.38 L84.80,261.68 L84.99,259.87 L85.29,258.13 L85.66,255.50 L86.00,253.28 L86.20,251.44 L86.21,249.77 L86.05,248.02 L85.82,246.03 L85.63,243.77 L85.55,241.35 L85.62,238.89 L87.02,236.47 L87.24,233.61 L87.44,230.66 L87.60,227.58 L87.75,224.42 L87.91,221.32 L88.11,218.40 L88.30,215.67 L88.40,212.99 L88.32,210.19 L87.99,207.12 L87.46,205.21 L86.85,203.24 L86.29,201.46 L85.93,200.02 L85.85,198.95 L86.05,198.12 L86.45,197.34 L86.95,196.49 L87.46,195.55 L87.95,194.59 L88.43,193.66 L89.00,192.71 L89.71,191.64 L90.62,190.34 L91.70,188.81 L92.91,187.18 L94.21,185.68 L95.57,184.50 L97.03,183.66 L98.64,183.07 L100.44,182.50 L102.43,181.80 L104.51,180.93 L106.58,180.03 L108.48,179.26 L110.14,178.77 L111.56,178.55 L112.81,178.52 L114.02,178.59 L115.32,178.73 L116.77,178.99 L118.36,179.46 L120.03,180.15 L121.68,180.93 L123.25,181.60 L124.73,181.98 L126.15,182.03 L127.56,181.86 L128.98,181.73 L130.40,181.86 L131.76,182.33 L133.00,183.08 L134.08,183.96 L135.04,184.83 L135.95,185.68 L136.90,186.57 L137.95,187.62 L139.09,188.84 L140.24,190.17 L141.26,191.49 L142.01,192.74 L142.42,193.97 L142.49,195.32 L142.32,196.94 L142.01,198.88 L141.68,201.01 L141.38,203.08 L141.10,204.86 L140.81,206.26 L140.46,207.33 L140.06,208.27 L139.64,209.24 L139.25,210.34 L138.94,211.53 L138.69,212.73 L138.45,213.92 L138.11,215.13 L137.62,216.49 L136.94,218.06 L136.13,219.80 L135.30,221.54 L134.56,223.10 L133.98,224.37 L133.56,225.40 L133.19,226.37 L132.75,227.49 L132.12,228.85 L131.23,230.37 L130.09,231.86 L128.77,233.12 L127.35,234.05 L125.89,234.68 L124.41,235.11 L122.89,235.43 L121.30,235.65 L119.65,235.70 L117.98,235.54 L116.38,235.20 L114.92,234.85 L115.13,234.71 L115.47,234.96 L115.83,235.54 L116.10,236.26 L116.18,236.89 L116.05,237.28 L115.79,237.41 L115.50,237.45 L115.30,237.55 L115.26,237.82 L115.36,238.23" fill="none" stroke="#2f5597" stroke-width="1.15" stroke-linejoin="round" opacity="1"/>
<path d="M134.15,236.78 L131.71,236.76 L129.26,236.75 L126.80,236.75 L124.34,236.74 L121.88,236.74 L119.42,236.73 L116.96,236.71 L114.51,236.70 L112.06,236.69 L109.62,236.68 L107.17,236.67 L104.73,236.68 L102.28,236.69 L99.83,236.71 L97.37,236.73 L94.91,236.75 L92.46,236.76 L90.01,236.76 L87.56,236.76 L85.12,236.75 L82.67,236.74 L80.22,236.73 L77.77,236.72 L75.30,236.72 L72.82,236.72 L70.32,236.72 L67.80,236.73 L65.28,236.73 L62.75,236.72 L62.27,234.35 L60.81,234.31 L59.38,234.33 L58.01,234.44 L56.69,234.66 L55.43,234.98 L54.20,235.43 L53.01,235.98 L51.84,236.63 L50.69,237.36 L49.56,238.14 L48.46,238.96 L47.40,239.82 L46.38,240.71 L45.43,241.65 L44.52,242.65 L43.68,243.72 L42.89,244.86 L42.14,246.07 L41.44,247.34 L40.77,248.65 L40.14,249.97 L39.56,251.29 L39.04,252.60 L38.58,253.90 L38.21,255.20 L37.93,256.51 L37.75,257.84 L37.67,259.21 L37.66,260.63 L37.72,262.08 L37.83,263.57 L37.98,265.06 L38.15,266.53 L38.33,267.99 L38.55,269.40 L38.79,270.78 L39.09,272.13 L39.45,273.47 L39.90,274.79 L40.43,276.12 L41.06,277.44 L41.77,278.75 L42.57,280.03 L43.44,281.25 L44.37,282.39 L45.36,283.45 L46.40,284.40 L47.49,285.26 L48.64,286.04 L49.84,286.75 L51.09,287.40 L52.40,288.01 L53.75,288.57 L55.12,289.08 L56.51,289.52 L57.89,289.88 L59.25,290.15 L60.58,290.31 L61.87,290.37 L63.15,290.34 L64.40,290.24 L65.66,290.08 L66.92,289.88 L68.20,289.65 L69.49,289.38 L70.79,289.06 L72.09,288.68 L73.36,288.22 L74.59,287.66 L75.76,287.00 L76.86,286.24 L77.88,285.40 L78.83,284.48 L79.70,283.51 L80.51,282.50 L81.27,281.45 L81.98,280.36 L82.66,279.23 L83.29,278.03 L83.88,276.77 L84.41,275.42 L84.89,274.00 L85.30,272.52 L85.65,270.99 L85.94,269.45 L86.19,267.90 L86.40,266.37 L86.57,264.87 L86.71,263.39 L86.85,260.63 L87.01,257.86 L87.18,255.08 L87.33,252.28 L87.45,249.45 L87.53,246.60 L87.56,243.75 L87.54,240.92 L87.47,238.10 L86.90,235.59 L86.80,232.55 L86.72,229.52 L86.65,226.49 L86.60,223.43 L86.58,220.34 L86.57,217.21 L86.57,214.03 L86.55,210.83 L86.52,207.62 L86.47,204.41 L86.43,202.66 L86.44,200.94 L86.53,199.25 L86.68,197.60 L86.92,195.98 L87.23,194.36 L87.63,192.75 L88.09,191.16 L88.62,189.59 L89.20,188.06 L89.84,186.59 L90.53,185.20 L91.27,183.91 L92.08,182.72 L92.97,181.62 L93.95,180.61 L95.02,179.66 L96.19,178.77 L97.45,177.91 L98.78,177.11 L100.17,176.35 L101.58,175.65 L103.00,175.04 L104.41,174.52 L105.80,174.11 L107.16,173.81 L108.50,173.60 L109.82,173.48 L111.15,173.42 L112.47,173.42 L113.81,173.48 L115.15,173.59 L116.49,173.77 L117.83,174.03 L119.15,174.40 L120.44,174.89 L121.69,175.49 L122.92,176.22 L124.10,177.05 L125.26,177.97 L126.40,178.95 L127.52,179.99 L128.62,181.07 L129.68,182.20 L130.71,183.38 L131.68,184.61 L132.58,185.92 L133.41,187.31 L134.14,188.77 L134.79,190.29 L135.37,191.86 L135.87,193.44 L136.33,195.02 L136.76,196.59 L137.16,198.13 L137.54,199.66 L137.90,201.18 L138.21,202.71 L138.48,204.27 L138.67,205.84 L138.77,207.45 L138.77,209.06 L138.66,210.68 L138.45,212.27 L138.13,213.83 L137.72,215.33 L137.23,216.79 L136.67,218.21 L136.03,219.59 L135.33,220.95 L134.55,222.31 L133.69,223.65 L132.76,224.98 L131.74,226.27 L130.66,227.50 L129.53,228.65 L128.35,229.71 L127.14,230.67 L125.93,231.52 L124.71,232.27 L123.49,232.93 L122.27,233.53 L121.04,234.06 L119.78,234.54 L118.49,234.95 L117.15,235.28 L115.76,235.52 L114.33,235.65 L112.88,235.67 L112.82,235.61 L112.77,235.54 L112.75,235.45 L112.75,235.39 L112.80,235.35 L112.87,235.36 L112.98,235.40 L113.09,235.48 L113.21,235.58 L113.31,235.68 L113.39,235.77" fill="none" stroke="#0070c0" stroke-width="1.6" stroke-linejoin="round" stroke-dasharray="3 1.6" opacity="1"/>
<path d="M30.19,228.80 L33.14,229.43 L36.09,229.10 L39.04,228.35 L42.00,228.23 L44.95,228.68 L47.90,228.64 L50.85,228.79 L53.80,229.41 L56.76,229.56 L59.71,229.59 L62.66,228.33 L65.61,228.62 L68.56,228.25 L71.52,229.58 L74.47,228.71 L77.42,228.93 L80.37,228.58 L83.32,229.16 L86.28,228.20 L89.23,229.50 L92.18,228.84 L95.13,228.57 L98.08,228.34 L101.04,228.57 L103.99,228.62 L106.94,228.49 L109.89,228.32 L112.84,229.11 L115.80,228.64 L118.75,228.34 L121.70,228.38 L124.65,229.02" fill="none" stroke="#5bb4ec" stroke-width="1.1"/>
<path d="M31.91,229.91 L34.86,229.80 L37.81,230.21 L40.77,230.14 L43.72,230.48 L46.67,230.20 L49.62,230.16 L52.57,230.91 L55.53,230.12 L58.48,229.62 L61.43,229.78 L64.38,229.99 L67.33,230.47 L70.29,229.98 L73.24,230.20 L76.19,230.40 L79.14,229.84 L82.09,230.90 L85.05,229.96 L88.00,230.98 L90.95,230.17 L93.90,230.34 L96.85,230.70 L99.81,230.04 L102.76,230.32 L105.71,230.15 L108.66,229.72 L111.61,230.66 L114.57,231.01 L117.52,230.60 L120.47,230.06 L123.42,230.74" fill="none" stroke="#3a78c2" stroke-width="1.1"/>
<path d="M34.37,230.22 L37.32,229.18 L40.27,229.53 L43.23,229.83 L46.18,229.20 L49.13,230.00 L52.08,229.52 L55.03,230.18 L57.99,229.85 L60.94,229.32 L63.89,229.17 L66.84,229.22 L69.79,229.91 L72.75,229.63 L75.70,230.01 L78.65,230.26 L81.60,229.76 L84.55,229.28 L87.51,229.26 L90.46,229.45 L93.41,229.12 L96.36,230.07 L99.31,230.22 L102.27,229.82 L105.22,230.07 L108.17,230.16 L111.12,229.87 L114.07,229.57 L117.03,229.76 L119.98,230.01 L122.93,229.27" fill="none" stroke="#2f5597" stroke-width="1.0"/>
<path d="M33.63,237.81 L36.58,238.56 L39.54,239.09 L42.49,239.15 L45.44,237.97 L48.39,239.14 L51.34,238.20 L54.30,238.39 L57.25,238.76 L60.20,238.08 L63.15,239.17 L66.10,239.01 L69.06,238.56 L72.01,239.16 L74.96,238.03 L77.91,238.86 L80.86,239.00 L83.82,239.13 L86.77,238.31 L89.72,238.57 L92.67,238.31 L95.62,238.28 L98.58,238.06 L101.53,237.85 L104.48,238.23 L107.43,238.92 L110.38,238.53 L113.34,238.95 L116.29,239.18 L119.24,238.53 L122.19,238.19 L125.14,238.95 L128.10,238.81 L131.05,238.71 L134.00,238.22" fill="none" stroke="#7f7f7f" stroke-width="1.1"/>
<path d="M34.37,239.59 L37.32,239.46 L40.27,239.26 L43.23,239.77 L46.18,239.21 L49.13,239.05 L52.08,240.20 L55.03,239.01 L57.99,239.31 L60.94,240.14 L63.89,239.69 L66.84,239.44 L69.79,239.04 L72.75,239.80 L75.70,239.52 L78.65,239.09 L81.60,239.20 L84.55,239.00 L87.51,239.67 L90.46,239.41 L93.41,240.04 L96.36,239.31 L99.31,239.17 L102.27,239.42 L105.22,239.32 L108.17,240.03 L111.12,239.06 L114.07,238.94 L117.03,238.95 L119.98,239.57 L122.93,239.21 L125.88,239.88 L128.83,239.04 L131.79,239.12 L134.74,239.84" fill="none" stroke="#8a8a50" stroke-width="1.1"/>
<path d="M35.60,242.75 L38.55,242.24 L41.50,242.09 L44.46,241.78 L47.41,242.18 L50.36,242.82 L53.31,241.72 L56.26,242.77 L59.22,241.74 L62.17,242.62 L65.12,242.39 L68.07,241.75 L71.02,242.67 L73.98,242.66 L76.93,242.14 L79.88,241.84 L82.83,241.68 L85.78,241.89 L88.74,241.53 L91.69,242.17 L94.64,241.53 L97.59,242.74 L100.54,242.55 L103.50,242.12 L106.45,242.46 L109.40,241.84 L112.35,241.96 L115.30,242.13 L118.26,241.68 L121.21,242.08 L124.16,242.43 L127.11,242.33 L130.06,241.67 L133.02,241.60 L135.97,242.57" fill="none" stroke="#70ad47" stroke-width="1.1"/>
<path d="M38.06,234.62 L41.01,234.45 L43.96,235.08 L46.92,235.01 L49.87,235.53 L52.82,235.06 L55.77,235.11 L58.72,234.96 L61.68,235.78 L64.63,234.45 L67.58,235.09 L70.53,235.25 L73.48,234.69 L76.44,235.02 L79.39,235.12 L82.34,234.84 L85.29,235.72 L88.24,235.06 L91.20,235.23 L94.15,234.47 L97.10,234.51 L100.05,235.44 L103.00,235.15 L105.96,235.64 L108.91,235.20 L111.86,234.66 L114.81,234.55 L117.76,235.14 L120.72,235.37 L123.67,235.55 L126.62,234.94" fill="none" stroke="#ffc000" stroke-width="1.0"/>
<path d="M50.36,236.77 L53.31,237.89 L56.26,236.97 L59.22,238.04 L62.17,237.80 L65.12,237.75 L68.07,237.10 L71.02,237.62 L73.98,237.57 L76.93,237.20 L79.88,237.92 L82.83,237.04 L85.78,237.90 L88.74,237.35 L91.69,237.72 L94.64,237.79 L97.59,237.32 L100.54,237.46 L103.50,237.54 L106.45,237.49 L109.40,237.32 L112.35,237.85 L115.30,237.78 L118.26,237.18 L121.21,237.17 L124.16,237.32 L127.11,236.87 L130.06,237.21 L133.02,236.86" fill="none" stroke="#0070c0" stroke-width="1.5" stroke-dasharray="3 1.6"/>
<path d="M82.34,233.14 C92.18,225.24 104.48,211.14 114.32,185.76" fill="none" stroke="#ffc000" stroke-width="1.1"/>
<path d="M116.78,241.60 C121.70,246.39 126.62,244.98 134.00,236.52 C136.46,225.24 134.00,213.96 131.54,199.86" fill="none" stroke="#70ad47" stroke-width="1.1"/>
<path d="M134.00,235.11 L131.54,235.11 L129.08,235.11 L126.62,235.11 L124.16,235.11 L121.70,235.11 L119.24,235.11 L116.78,235.11 L114.32,235.11 L111.86,235.11 L109.40,235.11 L106.94,235.11 L104.48,235.11 L102.02,235.11 L99.56,235.11 L97.10,235.11 L94.64,235.11 L92.18,235.11 L89.72,235.11 L87.26,235.11 L84.80,235.11 L82.34,235.11 L79.88,235.11 L77.42,235.11 L74.96,235.11 L72.50,235.11 L70.04,235.11 L67.58,235.11 L65.12,235.11 L62.66,235.11 L60.20,235.11 L58.90,235.15 L57.60,235.27 L56.31,235.47 L55.03,235.74 L53.76,236.09 L52.52,236.52 L51.29,237.02 L50.09,237.60 L48.92,238.25 L47.77,238.97 L46.67,239.76 L45.60,240.61 L44.57,241.53 L43.59,242.51 L42.65,243.55 L41.76,244.64 L40.93,245.78 L40.15,246.98 L39.42,248.22 L38.75,249.50 L38.14,250.82 L37.60,252.17 L37.12,253.56 L36.70,254.98 L36.35,256.41 L36.06,257.87 L35.84,259.34 L35.70,260.82 L35.62,262.31 L35.60,263.81 L35.66,265.30 L35.79,266.79 L35.98,268.26 L36.24,269.72 L36.57,271.17 L36.97,272.59 L37.43,273.99 L37.96,275.35 L38.54,276.69 L39.19,277.98 L39.90,279.23 L40.66,280.44 L41.48,281.61 L42.35,282.72 L43.27,283.77 L44.24,284.77 L45.25,285.71 L46.31,286.58 L47.40,287.39 L48.53,288.14 L49.69,288.81 L50.89,289.41 L52.10,289.94 L53.35,290.39 L54.61,290.77 L55.88,291.07 L57.17,291.30 L58.46,291.44 L59.77,291.51 L61.07,291.49 L62.37,291.40 L63.66,291.23 L64.95,290.98 L66.22,290.65 L67.47,290.25 L68.70,289.77 L69.91,289.22 L71.10,288.59 L72.25,287.90 L73.37,287.13 L74.45,286.30 L75.49,285.40 L76.49,284.44 L77.44,283.43 L78.35,282.35 L79.20,281.22 L80.00,280.05 L80.74,278.82 L81.43,277.55 L82.06,276.25 L82.63,274.90 L83.13,273.52 L83.57,272.12 L83.94,270.69 L84.25,269.24 L84.49,267.77 L84.66,266.29 L84.77,264.80 L84.80,263.31 L84.80,260.49 L84.80,257.67 L84.80,254.85 L84.80,252.03 L84.80,249.21 L84.80,246.39 L84.80,243.57 L84.80,240.75 L84.80,237.93 L84.80,235.11 L84.80,232.29 L84.80,229.47 L84.80,226.65 L84.80,223.83 L84.80,221.01 L84.80,218.19 L84.80,215.37 L84.80,212.55 L84.80,209.73 L84.80,206.91 L84.83,205.42 L84.94,203.93 L85.11,202.45 L85.35,200.98 L85.66,199.53 L86.03,198.10 L86.47,196.70 L86.97,195.32 L87.54,193.97 L88.17,192.67 L88.86,191.40 L89.60,190.17 L90.40,189.00 L91.25,187.87 L92.16,186.79 L93.11,185.78 L94.11,184.82 L95.15,183.92 L96.23,183.09 L97.35,182.32 L98.50,181.63 L99.69,181.00 L100.90,180.45 L102.13,179.97 L103.38,179.57 L104.65,179.24 L105.94,178.99 L107.23,178.82 L108.53,178.73 L109.83,178.71 L111.14,178.78 L112.43,178.92 L113.72,179.15 L114.99,179.45 L116.25,179.83 L117.50,180.28 L118.71,180.81 L119.91,181.41 L121.07,182.08 L122.20,182.83 L123.29,183.64 L124.35,184.51 L125.36,185.45 L126.33,186.45 L127.25,187.50 L128.12,188.61 L128.94,189.78 L129.70,190.99 L130.41,192.24 L131.06,193.53 L131.64,194.87 L132.17,196.23 L132.63,197.63 L133.03,199.05 L133.36,200.50 L133.62,201.96 L133.81,203.43 L133.94,204.92 L134.00,206.41 L133.98,207.91 L133.90,209.40 L133.76,210.88 L133.54,212.35 L133.25,213.81 L132.90,215.24 L132.48,216.66 L132.00,218.05 L131.46,219.40 L130.85,220.72 L130.18,222.00 L129.45,223.24 L128.67,224.44 L127.84,225.58 L126.95,226.67 L126.01,227.71 L125.03,228.69 L124.00,229.61 L122.93,230.46 L121.83,231.25 L120.68,231.97 L119.51,232.62 L118.31,233.20 L117.08,233.70 L115.84,234.13 L114.57,234.48 L113.29,234.75 L112.00,234.95 L110.70,235.07 L109.40,235.11 L109.40,235.11 L109.40,235.11 L109.40,235.11 L109.40,235.11 L109.40,235.11 L109.40,235.11 L109.40,235.11 L109.40,235.11 L109.40,235.11 L109.40,235.11 L109.40,235.11" fill="none" stroke="#ff0000" stroke-width="2.0" stroke-linejoin="round" opacity="1"/>
<g font-size="5.3" fill="#555">
<text x="203.20" y="334.20" font-size="5.3" text-anchor="end" fill="#555" font-weight="normal">0</text>
<text x="203.20" y="306.00" font-size="5.3" text-anchor="end" fill="#555" font-weight="normal">100</text>
<text x="203.20" y="277.80" font-size="5.3" text-anchor="end" fill="#555" font-weight="normal">200</text>
<text x="203.20" y="249.60" font-size="5.3" text-anchor="end" fill="#555" font-weight="normal">300</text>
<text x="203.20" y="221.40" font-size="5.3" text-anchor="end" fill="#555" font-weight="normal">400</text>
<text x="203.20" y="193.20" font-size="5.3" text-anchor="end" fill="#555" font-weight="normal">500</text>
<text x="203.20" y="165.00" font-size="5.3" text-anchor="end" fill="#555" font-weight="normal">600</text>
<text x="11.00" y="341.30" font-size="5.3" text-anchor="middle" fill="#555" font-weight="normal">−800</text>
<text x="35.60" y="341.30" font-size="5.3" text-anchor="middle" fill="#555" font-weight="normal">−700</text>
<text x="60.20" y="341.30" font-size="5.3" text-anchor="middle" fill="#555" font-weight="normal">−600</text>
<text x="84.80" y="341.30" font-size="5.3" text-anchor="middle" fill="#555" font-weight="normal">−500</text>
<text x="109.40" y="341.30" font-size="5.3" text-anchor="middle" fill="#555" font-weight="normal">−400</text>
<text x="134.00" y="341.30" font-size="5.3" text-anchor="middle" fill="#555" font-weight="normal">−300</text>
<text x="158.60" y="341.30" font-size="5.3" text-anchor="middle" fill="#555" font-weight="normal">−200</text>
<text x="183.20" y="341.30" font-size="5.3" text-anchor="middle" fill="#555" font-weight="normal">−100</text>
<text x="207.80" y="341.30" font-size="5.3" text-anchor="middle" fill="#555" font-weight="normal">0</text>
</g>
<path d="M78.3,290.6 H92.3" stroke="#ff0000" stroke-width="2.3"/>
<text x="93.50" y="292.40" font-size="5.2" text-anchor="start" fill="#333" font-weight="normal">PlannedX</text>
<path d="M78.3,298.8 H92.3" stroke="#ffc000" stroke-width="1.5"/>
<text x="93.50" y="300.60" font-size="5.2" text-anchor="start" fill="#333" font-weight="normal">Kp(0.8,0.5,0.1)</text>
<path d="M78.3,307.2 H92.3" stroke="#4f8fc6" stroke-width="1.5"/>
<text x="93.50" y="309.00" font-size="5.2" text-anchor="start" fill="#333" font-weight="normal">Kp(0.5,0.5,0.3)</text>
<path d="M78.3,315.2 H92.3" stroke="#7f7f7f" stroke-width="1.5"/>
<text x="93.50" y="317.00" font-size="5.2" text-anchor="start" fill="#333" font-weight="normal">Kp(1.0,0.5,0.2)</text>
<path d="M78.3,323.1 H92.3" stroke="#9ccbf0" stroke-width="1.5"/>
<text x="93.50" y="324.90" font-size="5.2" text-anchor="start" fill="#333" font-weight="normal">Kp(0.5,0.3,0.2)</text>
<path d="M141.2,290.6 H155.2" stroke="#c8c8c8" stroke-width="1.5"/>
<text x="156.60" y="292.40" font-size="5.2" text-anchor="start" fill="#333" font-weight="normal">Kp(0.8,0.3,0.6)</text>
<path d="M141.2,298.8 H155.2" stroke="#7dc46b" stroke-width="1.5"/>
<text x="156.60" y="300.60" font-size="5.2" text-anchor="start" fill="#333" font-weight="normal">Kp(0.8,0.1,0.2)</text>
<path d="M141.2,307.2 H155.2" stroke="#e8875a" stroke-width="1.5"/>
<text x="156.60" y="309.00" font-size="5.2" text-anchor="start" fill="#333" font-weight="normal">Kp(1.0,0.1,0.3)</text>
<path d="M141.2,315.2 H155.2" stroke="#4f6fb0" stroke-width="1.5"/>
<text x="156.60" y="317.00" font-size="5.2" text-anchor="start" fill="#333" font-weight="normal">Kp(0.5,0.1,0.1)</text>
<path d="M141.2,323.1 H155.2" stroke="#1f78d1" stroke-width="1.7" stroke-dasharray="5.2 4.6"/>
<text x="156.60" y="324.90" font-size="5.2" text-anchor="start" fill="#333" font-weight="normal">Kp(0.8,0.3,0.3)</text>
<rect x="244.3" y="172.4" width="233.0" height="140.6" fill="#fff" stroke="#2b2b2b" stroke-width="1.4"/>
<g stroke="#ececec" stroke-width="0.6">
<path d="M259.8,287.30 H471.6"/>
<path d="M259.8,269.37 H471.6"/>
<path d="M259.8,251.44 H471.6"/>
<path d="M259.8,233.51 H471.6"/>
<path d="M259.8,215.58 H471.6"/>
<path d="M259.8,197.65 H471.6"/>
<path d="M259.8,179.72 H471.6"/>
<path d="M259.8,305.5 H471.6"/>
</g>
<text x="252.40" y="289.30" font-size="5.8" text-anchor="middle" fill="#444" font-weight="normal">0</text>
<text x="252.40" y="271.37" font-size="5.8" text-anchor="middle" fill="#444" font-weight="normal">1</text>
<text x="252.40" y="253.44" font-size="5.8" text-anchor="middle" fill="#444" font-weight="normal">2</text>
<text x="252.40" y="235.51" font-size="5.8" text-anchor="middle" fill="#444" font-weight="normal">3</text>
<text x="252.40" y="217.58" font-size="5.8" text-anchor="middle" fill="#444" font-weight="normal">4</text>
<text x="252.40" y="199.65" font-size="5.8" text-anchor="middle" fill="#444" font-weight="normal">5</text>
<text x="252.40" y="181.72" font-size="5.8" text-anchor="middle" fill="#444" font-weight="normal">6</text>
<text transform="translate(260.70,292.3) rotate(-90)" font-size="5.0" fill="#3a3a3a" stroke="#3a3a3a" stroke-width="0.12" text-anchor="end">1</text>
<text transform="translate(268.60,292.3) rotate(-90)" font-size="5.0" fill="#3a3a3a" stroke="#3a3a3a" stroke-width="0.12" text-anchor="end">76</text>
<text transform="translate(276.50,292.3) rotate(-90)" font-size="5.0" fill="#3a3a3a" stroke="#3a3a3a" stroke-width="0.12" text-anchor="end">151</text>
<text transform="translate(284.40,292.3) rotate(-90)" font-size="5.0" fill="#3a3a3a" stroke="#3a3a3a" stroke-width="0.12" text-anchor="end">226</text>
<text transform="translate(292.30,292.3) rotate(-90)" font-size="5.0" fill="#3a3a3a" stroke="#3a3a3a" stroke-width="0.12" text-anchor="end">301</text>
<text transform="translate(300.20,292.3) rotate(-90)" font-size="5.0" fill="#3a3a3a" stroke="#3a3a3a" stroke-width="0.12" text-anchor="end">376</text>
<text transform="translate(308.10,292.3) rotate(-90)" font-size="5.0" fill="#3a3a3a" stroke="#3a3a3a" stroke-width="0.12" text-anchor="end">451</text>
<text transform="translate(316.00,292.3) rotate(-90)" font-size="5.0" fill="#3a3a3a" stroke="#3a3a3a" stroke-width="0.12" text-anchor="end">526</text>
<text transform="translate(323.90,292.3) rotate(-90)" font-size="5.0" fill="#3a3a3a" stroke="#3a3a3a" stroke-width="0.12" text-anchor="end">601</text>
<text transform="translate(331.80,292.3) rotate(-90)" font-size="5.0" fill="#3a3a3a" stroke="#3a3a3a" stroke-width="0.12" text-anchor="end">676</text>
<text transform="translate(339.70,292.3) rotate(-90)" font-size="5.0" fill="#3a3a3a" stroke="#3a3a3a" stroke-width="0.12" text-anchor="end">751</text>
<text transform="translate(347.60,292.3) rotate(-90)" font-size="5.0" fill="#3a3a3a" stroke="#3a3a3a" stroke-width="0.12" text-anchor="end">826</text>
<text transform="translate(355.50,292.3) rotate(-90)" font-size="5.0" fill="#3a3a3a" stroke="#3a3a3a" stroke-width="0.12" text-anchor="end">901</text>
<text transform="translate(363.40,292.3) rotate(-90)" font-size="5.0" fill="#3a3a3a" stroke="#3a3a3a" stroke-width="0.12" text-anchor="end">976</text>
<text transform="translate(371.30,292.3) rotate(-90)" font-size="5.0" fill="#3a3a3a" stroke="#3a3a3a" stroke-width="0.12" text-anchor="end">1051</text>
<text transform="translate(379.20,292.3) rotate(-90)" font-size="5.0" fill="#3a3a3a" stroke="#3a3a3a" stroke-width="0.12" text-anchor="end">1126</text>
<text transform="translate(387.10,292.3) rotate(-90)" font-size="5.0" fill="#3a3a3a" stroke="#3a3a3a" stroke-width="0.12" text-anchor="end">1201</text>
<text transform="translate(395.00,292.3) rotate(-90)" font-size="5.0" fill="#3a3a3a" stroke="#3a3a3a" stroke-width="0.12" text-anchor="end">1276</text>
<text transform="translate(402.90,292.3) rotate(-90)" font-size="5.0" fill="#3a3a3a" stroke="#3a3a3a" stroke-width="0.12" text-anchor="end">1351</text>
<text transform="translate(410.80,292.3) rotate(-90)" font-size="5.0" fill="#3a3a3a" stroke="#3a3a3a" stroke-width="0.12" text-anchor="end">1426</text>
<text transform="translate(418.70,292.3) rotate(-90)" font-size="5.0" fill="#3a3a3a" stroke="#3a3a3a" stroke-width="0.12" text-anchor="end">1501</text>
<text transform="translate(426.60,292.3) rotate(-90)" font-size="5.0" fill="#3a3a3a" stroke="#3a3a3a" stroke-width="0.12" text-anchor="end">1576</text>
<text transform="translate(434.50,292.3) rotate(-90)" font-size="5.0" fill="#3a3a3a" stroke="#3a3a3a" stroke-width="0.12" text-anchor="end">1651</text>
<text transform="translate(442.40,292.3) rotate(-90)" font-size="5.0" fill="#3a3a3a" stroke="#3a3a3a" stroke-width="0.12" text-anchor="end">1726</text>
<text transform="translate(450.30,292.3) rotate(-90)" font-size="5.0" fill="#3a3a3a" stroke="#3a3a3a" stroke-width="0.12" text-anchor="end">1801</text>
<text transform="translate(458.20,292.3) rotate(-90)" font-size="5.0" fill="#3a3a3a" stroke="#3a3a3a" stroke-width="0.12" text-anchor="end">1876</text>
<text transform="translate(466.10,292.3) rotate(-90)" font-size="5.0" fill="#3a3a3a" stroke="#3a3a3a" stroke-width="0.12" text-anchor="end">1951</text>
<polyline points="259.40,287.30 311.00,287.30 313.50,286.60 316.00,284.00 318.50,278.00 321.00,271.50 324.00,266.00 328.00,261.50 333.50,255.50 338.00,250.00 343.00,244.80 347.00,239.50 350.00,234.00 352.50,228.00 355.00,222.00 358.50,216.00 362.00,210.50 366.00,206.50 369.50,204.30 372.50,203.80 384.00,203.80 386.50,204.30 389.00,207.00 392.00,212.00 395.00,217.00 398.50,221.50 402.00,226.50 405.50,231.00 409.00,235.50 413.00,239.50 418.00,244.00 424.00,249.50 430.00,254.50 436.00,261.00 442.00,268.00 447.00,274.50 451.00,280.00 454.00,285.00 456.50,287.20 471.00,287.30" fill="none" stroke="#2f9be0" stroke-width="1.5" stroke-linejoin="round"/>
<polyline points="259.40,287.30 313.00,287.30 316.00,286.92 318.50,285.44 320.50,281.80 322.50,276.44 325.00,272.24 327.00,270.92 330.00,266.03 333.00,264.47 336.00,260.94 340.00,255.65 343.50,252.90 346.00,246.61 349.00,242.47 352.00,237.95 355.00,232.04 357.50,227.07 360.00,221.01 363.00,216.22 366.00,212.28 369.00,208.92 371.00,204.77 373.50,203.06 386.00,204.10 388.00,201.34 389.50,202.62 391.00,205.63 394.00,210.50 397.00,216.87 400.50,221.21 403.00,223.72 406.00,228.98 409.50,232.67 413.00,235.79 416.00,240.46 420.00,242.54 424.00,246.18 428.00,249.20 432.00,253.44 437.00,258.69 442.00,264.97 447.00,271.39 451.00,276.80 454.50,282.36 457.00,285.67 459.00,287.20 465.00,287.40 468.00,286.45 470.00,287.60 471.30,286.90" fill="none" stroke="#f07c2a" stroke-width="1.5" stroke-linejoin="round"/>
<path d="M421.4,192 H433.9" stroke="#2f9be0" stroke-width="1.3"/>
<path d="M421.4,203.8 H433.9" stroke="#f07c2a" stroke-width="1.3"/>
<text x="434.50" y="194.10" font-size="5.6" text-anchor="start" fill="#444" font-weight="normal" textLength="23.1" lengthAdjust="spacingAndGlyphs">Planning</text>
<text x="434.50" y="205.90" font-size="5.6" text-anchor="start" fill="#444" font-weight="normal" textLength="17.3" lengthAdjust="spacingAndGlyphs">Actual</text>
<rect x="2.7" y="384.5" width="213.7" height="128.7" fill="#fff" stroke="#2b2b2b" stroke-width="1.4"/>
<g stroke="#ececec" stroke-width="0.6">
<path d="M16.3,494.40 H209.5"/>
<path d="M16.3,477.20 H209.5"/>
<path d="M16.3,460.00 H209.5"/>
<path d="M16.3,442.80 H209.5"/>
<path d="M16.3,425.60 H209.5"/>
<path d="M16.3,408.40 H209.5"/>
<path d="M16.3,391.20 H209.5"/>
</g>
<text x="12.20" y="496.40" font-size="5.8" text-anchor="end" fill="#444" font-weight="normal">0</text>
<text x="12.20" y="479.20" font-size="5.8" text-anchor="end" fill="#444" font-weight="normal">10</text>
<text x="12.20" y="462.00" font-size="5.8" text-anchor="end" fill="#444" font-weight="normal">20</text>
<text x="12.20" y="444.80" font-size="5.8" text-anchor="end" fill="#444" font-weight="normal">30</text>
<text x="12.20" y="427.60" font-size="5.8" text-anchor="end" fill="#444" font-weight="normal">40</text>
<text x="12.20" y="410.40" font-size="5.8" text-anchor="end" fill="#444" font-weight="normal">50</text>
<text x="12.20" y="393.20" font-size="5.8" text-anchor="end" fill="#444" font-weight="normal">60</text>
<text transform="translate(19.20,498.6) rotate(-90)" font-size="5.1" fill="#3a3a3a" stroke="#3a3a3a" stroke-width="0.12" text-anchor="end">1</text>
<text transform="translate(26.61,498.6) rotate(-90)" font-size="5.1" fill="#3a3a3a" stroke="#3a3a3a" stroke-width="0.12" text-anchor="end">79</text>
<text transform="translate(34.02,498.6) rotate(-90)" font-size="5.1" fill="#3a3a3a" stroke="#3a3a3a" stroke-width="0.12" text-anchor="end">157</text>
<text transform="translate(41.43,498.6) rotate(-90)" font-size="5.1" fill="#3a3a3a" stroke="#3a3a3a" stroke-width="0.12" text-anchor="end">235</text>
<text transform="translate(48.84,498.6) rotate(-90)" font-size="5.1" fill="#3a3a3a" stroke="#3a3a3a" stroke-width="0.12" text-anchor="end">313</text>
<text transform="translate(56.25,498.6) rotate(-90)" font-size="5.1" fill="#3a3a3a" stroke="#3a3a3a" stroke-width="0.12" text-anchor="end">391</text>
<text transform="translate(63.66,498.6) rotate(-90)" font-size="5.1" fill="#3a3a3a" stroke="#3a3a3a" stroke-width="0.12" text-anchor="end">469</text>
<text transform="translate(71.07,498.6) rotate(-90)" font-size="5.1" fill="#3a3a3a" stroke="#3a3a3a" stroke-width="0.12" text-anchor="end">547</text>
<text transform="translate(78.48,498.6) rotate(-90)" font-size="5.1" fill="#3a3a3a" stroke="#3a3a3a" stroke-width="0.12" text-anchor="end">625</text>
<text transform="translate(85.89,498.6) rotate(-90)" font-size="5.1" fill="#3a3a3a" stroke="#3a3a3a" stroke-width="0.12" text-anchor="end">703</text>
<text transform="translate(93.30,498.6) rotate(-90)" font-size="5.1" fill="#3a3a3a" stroke="#3a3a3a" stroke-width="0.12" text-anchor="end">781</text>
<text transform="translate(100.71,498.6) rotate(-90)" font-size="5.1" fill="#3a3a3a" stroke="#3a3a3a" stroke-width="0.12" text-anchor="end">859</text>
<text transform="translate(108.12,498.6) rotate(-90)" font-size="5.1" fill="#3a3a3a" stroke="#3a3a3a" stroke-width="0.12" text-anchor="end">937</text>
<text transform="translate(115.53,498.6) rotate(-90)" font-size="5.1" fill="#3a3a3a" stroke="#3a3a3a" stroke-width="0.12" text-anchor="end">1015</text>
<text transform="translate(122.94,498.6) rotate(-90)" font-size="5.1" fill="#3a3a3a" stroke="#3a3a3a" stroke-width="0.12" text-anchor="end">1093</text>
<text transform="translate(130.35,498.6) rotate(-90)" font-size="5.1" fill="#3a3a3a" stroke="#3a3a3a" stroke-width="0.12" text-anchor="end">1171</text>
<text transform="translate(137.76,498.6) rotate(-90)" font-size="5.1" fill="#3a3a3a" stroke="#3a3a3a" stroke-width="0.12" text-anchor="end">1249</text>
<text transform="translate(145.17,498.6) rotate(-90)" font-size="5.1" fill="#3a3a3a" stroke="#3a3a3a" stroke-width="0.12" text-anchor="end">1327</text>
<text transform="translate(152.58,498.6) rotate(-90)" font-size="5.1" fill="#3a3a3a" stroke="#3a3a3a" stroke-width="0.12" text-anchor="end">1405</text>
<text transform="translate(159.99,498.6) rotate(-90)" font-size="5.1" fill="#3a3a3a" stroke="#3a3a3a" stroke-width="0.12" text-anchor="end">1483</text>
<text transform="translate(167.40,498.6) rotate(-90)" font-size="5.1" fill="#3a3a3a" stroke="#3a3a3a" stroke-width="0.12" text-anchor="end">1561</text>
<text transform="translate(174.81,498.6) rotate(-90)" font-size="5.1" fill="#3a3a3a" stroke="#3a3a3a" stroke-width="0.12" text-anchor="end">1639</text>
<text transform="translate(182.22,498.6) rotate(-90)" font-size="5.1" fill="#3a3a3a" stroke="#3a3a3a" stroke-width="0.12" text-anchor="end">1717</text>
<text transform="translate(189.63,498.6) rotate(-90)" font-size="5.1" fill="#3a3a3a" stroke="#3a3a3a" stroke-width="0.12" text-anchor="end">1795</text>
<text transform="translate(197.04,498.6) rotate(-90)" font-size="5.1" fill="#3a3a3a" stroke="#3a3a3a" stroke-width="0.12" text-anchor="end">1873</text>
<text transform="translate(204.45,498.6) rotate(-90)" font-size="5.1" fill="#3a3a3a" stroke="#3a3a3a" stroke-width="0.12" text-anchor="end">1951</text>
<polyline points="17.50,435.92 35.00,435.92 35.30,423.88 38.80,423.88 39.10,435.92 47.90,435.92 48.20,411.84 50.00,411.84 50.30,408.40 55.80,408.40 56.50,413.56 57.50,425.60 58.50,437.64 59.50,449.68 61.00,460.00 62.50,468.60 63.30,468.60 116.50,468.60 117.50,442.80 118.30,415.28 118.80,408.40 120.50,408.40 121.20,422.16 122.00,446.24 123.00,456.56 124.00,466.88 125.00,468.60 194.50,468.60 196.00,446.24 197.50,422.16 198.80,408.40 200.30,408.40 201.20,418.72 202.50,439.36 203.80,460.00 205.00,473.76 206.00,477.20 209.30,477.20" fill="none" stroke="#2f9be0" stroke-width="1.4" stroke-linejoin="round"/>
<polyline points="17.50,494.48 17.86,491.67 18.22,489.16 18.58,484.67 18.94,483.45 19.30,479.43 19.66,475.62 20.02,474.32 20.38,470.35 20.74,467.22 21.10,465.42 21.46,461.73 21.82,458.07 22.18,455.59 22.54,452.04 22.90,450.22 23.26,447.06 23.62,445.67 23.98,443.63 24.34,441.47 24.70,443.19 25.06,442.25 25.42,444.26 25.78,442.39 26.14,445.72 26.50,444.74 26.86,442.76 27.22,442.50 27.58,444.06 27.94,445.79 28.30,444.86 28.66,445.16 29.02,444.79 29.38,442.06 29.74,445.21 30.10,441.67 30.46,441.70 30.82,445.96 31.18,444.29 31.54,443.70 31.90,446.12 32.26,444.05 32.62,441.56 32.98,445.66 33.34,443.16 33.70,445.61 34.06,443.25 34.42,441.62 34.78,445.19 35.14,444.23 35.50,441.08 35.86,436.62 36.22,435.53 36.58,433.05 36.94,431.63 37.30,430.17 37.66,431.89 38.02,432.13 38.38,434.19 38.74,438.96 39.10,440.17 39.46,444.47 39.82,443.96 40.18,442.16 40.54,446.82 40.90,444.24 41.26,443.97 41.62,446.33 41.98,445.72 42.34,441.97 42.70,441.95 43.06,446.47 43.42,443.46 43.78,442.19 44.14,445.88 44.50,443.95 44.86,446.88 45.22,445.21 45.58,443.62 45.94,444.05 46.30,443.10 46.66,446.65 47.02,445.31 47.38,442.64 47.74,441.26 48.10,437.26 48.46,432.97 48.82,426.50 49.18,423.46 49.54,420.91 49.90,413.77 50.26,413.58 50.62,413.04 50.98,414.18 51.34,412.99 51.70,413.60 52.06,414.82 52.42,412.03 52.78,414.75 53.14,411.23 53.50,415.15 53.86,411.25 54.22,411.11 54.58,412.71 54.94,411.62 55.30,414.00 55.66,411.47 56.02,413.12 56.38,416.74 56.74,417.17 57.10,422.06 57.46,425.11 57.82,426.39 58.18,431.03 58.54,432.96 58.90,437.62 59.26,438.26 59.62,443.22 59.98,446.89 60.34,446.67 60.70,452.38 61.06,452.67 61.42,455.49 61.78,459.75 62.14,464.75 62.50,467.53 62.86,463.25 63.22,460.34 63.58,472.52 63.94,471.24 64.30,465.69 64.66,462.50 65.02,466.38 65.38,465.15 65.74,459.80 66.10,461.58 66.46,464.81 66.82,465.73 67.18,470.44 67.54,462.36 67.90,463.94 68.26,468.34 68.62,462.39 68.98,465.94 69.34,465.83 69.70,471.23 70.06,460.78 70.42,467.59 70.78,463.24 71.14,463.54 71.50,466.81 71.86,464.76 72.22,465.49 72.58,465.56 72.94,463.75 73.30,467.18 73.66,461.74 74.02,464.09 74.38,469.39 74.74,462.88 75.10,466.24 75.46,462.66 75.82,472.56 76.18,463.18 76.54,472.56 76.90,466.47 77.26,454.84 77.62,461.96 77.98,460.33 78.34,467.62 78.70,469.37 79.06,465.05 79.42,463.02 79.78,465.12 80.14,467.52 80.50,468.33 80.86,466.36 81.22,458.00 81.58,464.65 81.94,466.19 82.30,465.72 82.66,468.61 83.02,470.16 83.38,463.94 83.74,459.00 84.10,462.47 84.46,470.23 84.82,458.23 85.18,463.39 85.54,456.67 85.90,465.04 86.26,470.03 86.62,463.51 86.98,465.09 87.34,468.97 87.70,467.56 88.06,466.14 88.42,468.09 88.78,461.87 89.14,463.18 89.50,466.33 89.86,465.94 90.22,460.75 90.58,462.77 90.94,469.32 91.30,463.35 91.66,457.26 92.02,463.14 92.38,467.93 92.74,458.06 93.10,454.84 93.46,463.75 93.82,472.56 94.18,470.37 94.54,456.52 94.90,464.97 95.26,461.30 95.62,461.93 95.98,463.46 96.34,457.17 96.70,463.26 97.06,461.57 97.42,462.70 97.78,462.96 98.14,454.84 98.50,468.58 98.86,469.02 99.22,459.42 99.58,469.21 99.94,463.28 100.30,468.30 100.66,460.02 101.02,464.02 101.38,461.13 101.74,467.02 102.10,464.61 102.46,472.56 102.82,460.61 103.18,462.39 103.54,464.03 103.90,463.86 104.26,465.65 104.62,464.36 104.98,456.24 105.34,466.60 105.70,466.09 106.06,461.21 106.42,463.11 106.78,466.60 107.14,457.26 107.50,457.13 107.86,465.41 108.22,456.52 108.58,469.82 108.94,457.68 109.30,470.79 109.66,462.50 110.02,464.67 110.38,465.58 110.74,461.47 111.10,468.11 111.46,467.22 111.82,468.80 112.18,457.85 112.54,466.58 112.90,462.63 113.26,465.06 113.62,459.77 113.98,468.41 114.34,467.72 114.70,466.76 115.06,463.32 115.42,467.29 115.78,466.29 116.14,457.58 116.50,452.59 116.86,440.95 117.22,433.67 117.58,429.94 117.94,418.57 118.30,413.07 118.66,411.38 119.02,410.17 119.38,409.00 119.74,408.08 120.10,409.21 120.46,413.17 120.82,410.66 121.18,412.23 121.54,414.62 121.90,414.22 122.26,419.20 122.62,420.56 122.98,429.04 123.34,429.54 123.70,436.32 124.06,443.82 124.42,443.51 124.78,451.15 125.14,453.62 125.50,461.48 125.86,466.31 126.22,462.19 126.58,463.24 126.94,464.88 127.30,462.84 127.66,462.31 128.02,457.96 128.38,459.93 128.74,458.33 129.10,464.48 129.46,471.15 129.82,459.02 130.18,466.52 130.54,464.39 130.90,465.73 131.26,467.92 131.62,464.75 131.98,460.70 132.34,466.27 132.70,462.57 133.06,470.62 133.42,469.70 133.78,464.81 134.14,464.54 134.50,464.63 134.86,465.06 135.22,472.50 135.58,463.20 135.94,468.29 136.30,472.39 136.66,464.20 137.02,467.59 137.38,461.50 137.74,460.75 138.10,465.58 138.46,467.01 138.82,467.64 139.18,458.31 139.54,467.52 139.90,459.73 140.26,472.56 140.62,466.97 140.98,461.68 141.34,463.87 141.70,463.20 142.06,470.34 142.42,462.48 142.78,463.03 143.14,463.04 143.50,459.29 143.86,461.94 144.22,465.96 144.58,462.47 144.94,458.29 145.30,471.38 145.66,460.59 146.02,454.84 146.38,464.36 146.74,465.33 147.10,469.02 147.46,457.34 147.82,461.50 148.18,468.00 148.54,461.56 148.90,471.48 149.26,472.16 149.62,472.56 149.98,467.48 150.34,462.61 150.70,464.69 151.06,469.58 151.42,457.46 151.78,463.11 152.14,472.56 152.50,462.32 152.86,459.62 153.22,459.61 153.58,466.41 153.94,469.67 154.30,472.56 154.66,463.65 155.02,463.05 155.38,460.99 155.74,468.63 156.10,461.91 156.46,456.88 156.82,464.75 157.18,462.17 157.54,464.63 157.90,463.23 158.26,470.26 158.62,460.30 158.98,472.56 159.34,461.26 159.70,461.84 160.06,463.64 160.42,460.96 160.78,460.06 161.14,462.40 161.50,458.48 161.86,469.69 162.22,465.09 162.58,460.20 162.94,470.33 163.30,462.21 163.66,465.41 164.02,471.91 164.38,457.08 164.74,467.00 165.10,462.26 165.46,466.89 165.82,464.00 166.18,460.90 166.54,469.08 166.90,455.47 167.26,458.33 167.62,467.43 167.98,464.70 168.34,471.97 168.70,470.86 169.06,464.70 169.42,463.73 169.78,463.84 170.14,462.94 170.50,467.81 170.86,464.94 171.22,462.63 171.58,466.55 171.94,459.71 172.30,463.86 172.66,461.76 173.02,461.81 173.38,463.90 173.74,461.74 174.10,470.65 174.46,471.61 174.82,468.33 175.18,460.01 175.54,468.37 175.90,456.08 176.26,465.25 176.62,464.63 176.98,464.45 177.34,467.13 177.70,463.52 178.06,464.06 178.42,460.81 178.78,469.78 179.14,467.61 179.50,460.20 179.86,464.75 180.22,465.87 180.58,466.08 180.94,470.54 181.30,462.95 181.66,464.81 182.02,468.72 182.38,466.46 182.74,462.07 183.10,467.53 183.46,468.90 183.82,471.80 184.18,467.19 184.54,460.26 184.90,463.45 185.26,464.97 185.62,460.77 185.98,464.88 186.34,467.58 186.70,463.40 187.06,462.80 187.42,469.16 187.78,464.33 188.14,466.23 188.50,458.71 188.86,469.53 189.22,465.54 189.58,466.95 189.94,464.57 190.30,459.78 190.66,454.92 191.02,460.23 191.38,472.56 191.74,458.71 192.10,461.86 192.46,458.86 192.82,462.51 193.18,469.96 193.54,465.02 193.90,463.92 194.26,465.38 194.62,464.03 194.98,457.61 195.34,451.04 195.70,446.65 196.06,441.96 196.42,443.59 196.78,440.12 197.14,433.62 197.50,431.26 197.86,425.90 198.22,417.92 198.58,416.25 198.94,408.64 199.30,405.00 199.66,405.81 200.02,400.55 200.38,406.47 200.74,401.21 201.10,403.90 201.46,406.71 201.82,415.97 202.18,416.75 202.54,420.98 202.90,431.54 203.26,434.79 203.62,438.76 203.98,445.44 204.34,448.66 204.70,454.81 205.06,462.64 205.42,465.19 205.78,465.35 206.14,470.58 206.50,470.96 206.86,469.17 207.22,467.78 207.58,465.76 207.94,472.01 208.30,462.09 208.66,466.28 209.02,467.62" fill="none" stroke="#f07c2a" stroke-width="1.5" stroke-linejoin="round"/>
<path d="M111.2,398.2 H122.3" stroke="#2f9be0" stroke-width="1.3"/>
<path d="M149,398.2 H160.5" stroke="#f07c2a" stroke-width="1.3"/>
<text x="123.40" y="400.20" font-size="5.6" text-anchor="start" fill="#444" font-weight="normal" textLength="20.7" lengthAdjust="spacingAndGlyphs">Planning</text>
<text x="161.20" y="400.20" font-size="5.6" text-anchor="start" fill="#444" font-weight="normal" textLength="15.8" lengthAdjust="spacingAndGlyphs">Actual</text>
<defs>
<clipPath id="pc"><rect x="245.5" y="362.5" width="229.3" height="171.70000000000005"/></clipPath>
<filter id="soft" x="0" y="0" width="1" height="1"><feGaussianBlur stdDeviation="0.55"/></filter>
<filter id="gran" x="0" y="0" width="100%" height="100%"><feTurbulence type="fractalNoise" baseFrequency="0.38" numOctaves="2" seed="4" result="n"/><feColorMatrix in="n" type="matrix" values="0 0 0 0 0.32  0 0 0 0 0.20  0 0 0 0 0.13  0 0 0 -4.0 2.05" result="c"/><feComposite in="c" in2="SourceGraphic" operator="in"/></filter>
<filter id="gran2" x="0" y="0" width="100%" height="100%"><feTurbulence type="fractalNoise" baseFrequency="0.42" numOctaves="1" seed="9" result="n"/><feColorMatrix in="n" type="matrix" values="0 0 0 0 0.84  0 0 0 0 0.68  0 0 0 0 0.52  0 0 0 -4.0 1.95" result="c"/><feComposite in="c" in2="SourceGraphic" operator="in"/></filter>
<linearGradient id="ceil" x1="0" y1="0" x2="1" y2="0"><stop offset="0" stop-color="#a39c90"/><stop offset="0.2" stop-color="#b3ada1"/><stop offset="0.45" stop-color="#bfbaaf"/><stop offset="0.75" stop-color="#c9c5bd"/><stop offset="1" stop-color="#cdc9c2"/></linearGradient>
<linearGradient id="wallR" x1="0" y1="0" x2="1" y2="0"><stop offset="0" stop-color="#d2c9b4"/><stop offset="0.45" stop-color="#ddd6c6"/><stop offset="1" stop-color="#e2ded4"/></linearGradient>
<linearGradient id="flr" x1="0" y1="0" x2="0" y2="1"><stop offset="0" stop-color="#5c4c42"/><stop offset="0.5" stop-color="#6a5448"/><stop offset="1" stop-color="#4a362c"/></linearGradient>
<linearGradient id="door" x1="0" y1="0" x2="1" y2="0"><stop offset="0" stop-color="#1e0f08"/><stop offset="0.18" stop-color="#45261a"/><stop offset="0.6" stop-color="#52301e"/><stop offset="1" stop-color="#432416"/></linearGradient>
<linearGradient id="ramp" x1="0" y1="0" x2="0" y2="1"><stop offset="0" stop-color="#c4c9cc"/><stop offset="1" stop-color="#bcc1c5"/></linearGradient>
<linearGradient id="wood" x1="0" y1="0" x2="0" y2="1"><stop offset="0" stop-color="#dcc08e"/><stop offset="1" stop-color="#cfae78"/></linearGradient>
</defs>
<g clip-path="url(#pc)"><g filter="url(#soft)">
<rect x="245.5" y="362.5" width="229.3" height="171.70000000000005" fill="#d9d2bf"/>
<polygon points="286,383.8 440,379.5 440,388 433,452 286,452" fill="url(#wallR)"/>
<polygon points="245,394.5 258.6,389.3 258.6,452 245,452" fill="#d4ccb8"/>
<polygon points="258.6,389.3 286,387.4 286,452 258.6,452" fill="#aaa08b"/>
<polygon points="258.6,389.3 286,387.4 286,393 258.6,395" fill="#8f8674"/>
<polygon points="282,389 286,388 286,447 282,446" fill="#9c927e"/>
<path d="M259,390 V447" stroke="#8a8270" stroke-width="0.8"/>
<rect x="262" y="400" width="2.8" height="6.5" fill="#7e4a5c"/>
<rect x="258.6" y="444.5" width="28" height="2.2" fill="#3a2a22"/>
<polygon points="245,362 475,362 475,386 440,386 440,379.5 286,383.8 286,387.4 258.6,389.3 245,394.5" fill="url(#ceil)"/>
<g stroke="#8a8276" stroke-width="0.5" opacity="0.6" fill="none">
<path d="M245,372 L262,388"/>
<path d="M252,364 L280,384"/>
<path d="M272,362 L300,383"/>
<path d="M300,362 L318,383"/>
<path d="M338,362 L342,382"/>
<path d="M360,362 L361,381"/>
<path d="M384,362 L382,381"/>
<path d="M408,362 L404,380"/>
<path d="M432,362 L426,380"/>
<path d="M456,362 L448,380"/>
<path d="M245,380 L275,372 L330,371"/><path d="M262,366 L300,364"/><path d="M330,369 L475,368"/><path d="M340,375 L475,374"/>
<ellipse cx="322" cy="368" rx="8" ry="3.5"/>
</g>
<polygon points="245,394.5 258.6,389.3 286,387.4 286,385 258.6,386.5 245,391" fill="#b2ab9c"/>
<circle cx="293" cy="386.5" r="1.5" fill="#c4281e"/><circle cx="296.4" cy="386.5" r="1.5" fill="#c4281e"/>
<polygon points="440,386 475,386 475,457 433,455" fill="url(#door)"/>
<polygon points="440,386 475,386 475,389.5 440,389.5" fill="#2c1810"/>
<path d="M467.7,417 L467.2,445" stroke="#8a6a4c" stroke-width="0.9"/>
<path d="M471,417 L470.7,445" stroke="#8a6a4c" stroke-width="0.9"/>
<path d="M445,385 L434.5,393" stroke="#b8a468" stroke-width="2.4"/>
<rect x="389.5" y="384.6" width="8" height="6.8" fill="#e6e0cc"/>
<rect x="390.5" y="386.5" width="3" height="4" fill="#d4c48a"/>
<rect x="403.9" y="409.8" width="23.6" height="39" fill="#c8c6c1" stroke="#a2a09b" stroke-width="0.7"/>
<circle cx="411" cy="414.8" r="1.8" fill="#d0302a"/>
<circle cx="421.5" cy="414.8" r="2.0" fill="#d0302a"/>
<circle cx="412" cy="425.7" r="1.0" fill="#d0302a"/>
<circle cx="415.8" cy="425.7" r="1.0" fill="#d0302a"/>
<circle cx="419.3" cy="425.7" r="1.0" fill="#d0302a"/>
<circle cx="420" cy="434.6" r="1.2" fill="#d0302a"/>
<circle cx="415.8" cy="414.8" r="1.3" fill="none" stroke="#555" stroke-width="0.7"/>
<polygon points="245,447 286,447 433,452 475,457 475,470 245,466" fill="url(#flr)"/>
<polygon points="245,448.5 270,448.5 290,449 290,458 245,458" fill="#8a8078" opacity="0.8"/>
<rect x="245" y="446.7" width="42" height="1.6" fill="#3a2e28"/>
<polygon points="405,453 433,453 475,458 475,463 405,459" fill="#6e3e30" opacity="0.75"/>
<polygon points="245,485 300,489 378,497 404,506 416,522 475,532 475,535 245,535" fill="#a98266"/>
<rect x="245" y="485" width="175" height="50" fill="#000" filter="url(#gran)" opacity="0.8"/>
<rect x="245" y="485" width="175" height="50" fill="#000" filter="url(#gran2)" opacity="0.35"/>
<path d="M399.5,481 L408.5,509.5 L418.5,523.5 L475,534" stroke="#1c1a18" stroke-width="3.4" fill="none"/>
<polygon points="399.5,475 418.7,466 475,469 475,531.5 430,523.5 417,521.3 407,508.4 397.7,480" fill="url(#ramp)"/>
<path d="M397.7,480 L407,508.4 L417,521.3" stroke="#e8eaec" stroke-width="0.8" fill="none"/>
<polygon points="418.7,466 475,469 475,500 472.9,499.4" fill="#4a4b4e"/>
<path d="M418.7,466 L472.9,499.4" stroke="#e2e4e6" stroke-width="1.2"/>
<path d="M432,471 L468,486" stroke="#c9b43a" stroke-width="0.9" stroke-dasharray="2 1.6"/>
<polygon points="445,480.5 460.6,481 460.6,483 447,482.8" fill="#c83a32"/>
<polygon points="457,490.6 473.7,496.5 473.7,498.5 459,493" fill="#d0402e"/>
<polygon points="448,470.6 462,471 462,472.5 448,472.3" fill="#c83a32" opacity="0.85"/>
<path d="M440,470 L475,474" stroke="#d8dadc" stroke-width="0.8"/>
<polygon points="245,458.5 280.6,455.5 320,461 372,463 400,474 400,492 372,486 334,478 300,476 280.6,466 245,467.5" fill="url(#wood)"/>
<g stroke="#b8965e" stroke-width="0.5" opacity="0.7" fill="none">
<path d="M245,461.5 L280,458.5 L330,466"/><path d="M245,464.5 L280,462 L320,469"/><path d="M340,476 L398,489"/><path d="M335,470 L398,482"/>
</g>
<polygon points="245,467.5 280.6,466 300,476 298,478 245,477" fill="#b38855"/>
<polygon points="277,466.5 282,466.5 282,477 277,477" fill="#c9a470"/>
<polygon points="245,477 300,476 334,478 372,486 400,492 401,501 380,502 372,497 330,491 300,490 245,487" fill="#1d1b19"/>
<polygon points="277,477.5 287,477 287,488 277,488" fill="#c7a674"/>
<polygon points="323.4,477.8 332.5,478.5 332.5,486 323.4,485.5" fill="#c29e6a"/>
<polygon points="345.7,481.8 354.9,483 354.9,490 345.7,489" fill="#bf9b66"/>
<polygon points="390.6,493.5 399.8,495 399.8,501 390.6,500.5" fill="#a88450"/>
<polygon points="280,475.7 295.2,475 294,481.2 281,481.2" fill="#c83c3c"/>
<polygon points="245,481 276,483 290,490 287,497 245,495" fill="#2c2c2c"/>
<path d="M246,485 L284,489" stroke="#8a8e92" stroke-width="1.4"/>
<path d="M245,494.5 L287,497" stroke="#141414" stroke-width="2.2" stroke-dasharray="1.5 1.1"/>
<polygon points="300,490 312,487 352,492 375,497 375,510 300,504" fill="#55575b"/>
<path d="M300,503.5 L375,510" stroke="#151515" stroke-width="2.6" stroke-dasharray="1.6 1.1"/>
<path d="M313,487.5 L304,499" stroke="#d6d8da" stroke-width="2"/>
<path d="M361,494 L359,507" stroke="#d6d8da" stroke-width="2"/>
<path d="M340,491 L331,502" stroke="#e2c62a" stroke-width="1.6" stroke-dasharray="2.2 1.6"/>
<polygon points="345,500 348.5,497.5 349,500.5" fill="#2a6ad0"/>
<polygon points="263,495 266.5,496 266,505 263.5,511 268,515 273,521 270.5,526 256,526.5 253,521 258,514 261,506" fill="#d4d4da" opacity="0.6"/>
<path d="M264.5,497 L263,506 L260.5,513 L256,520" stroke="#f0f0f4" stroke-width="1" fill="none" opacity="0.8"/>
<rect x="400.8" y="500.8" width="2.2" height="6" fill="#5fd05a"/>
<path d="M329.5,362 L315.4,427" stroke="#7e7c78" stroke-width="2.8"/>
<path d="M329.5,362 L315.4,427" stroke="#dcdad4" stroke-width="1.2"/>
<path d="M334,362 L323.3,418" stroke="#8e8c88" stroke-width="1.8"/>
<path d="M334,362 L323.3,418" stroke="#cfcdc8" stroke-width="0.6"/>
<path d="M337.5,362 L331,398" stroke="#a4a29e" stroke-width="1.0"/>
<polygon points="325.1,399.1 333,403.4 336.7,420.5 327,419.9" fill="#e3cfdb" stroke="#4a4a4a" stroke-width="0.9"/>
<polygon points="317.2,420 354.4,425.4 354,466 320,467" fill="#cac5bb"/>
<polygon points="321,433 345,436.5 345,462 321,460" fill="#5e5c58"/>
<polygon points="323,437 341,439.5 340,458 323,456" fill="#2c2b29"/>
<polygon points="317.2,418.5 356,424 356,426 317.2,420.5" fill="#2a2a2a"/>
<polygon points="317.2,420.5 354.4,426 354.4,429 317.2,423.5" fill="#bcb95a"/>
<rect x="330" y="450" width="2.6" height="8" fill="#e0c020"/>
<rect x="336" y="445" width="5" height="10" fill="#e8e8e6"/>
<rect x="345.5" y="426" width="3.2" height="40" fill="#b8b2a8"/>
<polygon points="348.8,454 372.2,457 372.2,469.6 348.8,467" fill="#bcbbb9"/>
<polygon points="320,466 372.2,469.6 372.2,472 320,469" fill="#8e8a86"/>
<g stroke="#1e1e1e" stroke-width="2.2" fill="none" stroke-linecap="round">
<path d="M372,456 L376.3,429.3 L402,432"/>
<path d="M375,452 L392,432"/>
<path d="M398,432 L397.5,457"/>
</g>
<rect x="390.9" y="413.8" width="8" height="5.8" fill="#1e1e1e"/>
<rect x="389" y="419.5" width="20" height="5" fill="#3a3a3a"/>
<path d="M387,417 L385,428 M386,440 L387,446 M393,438 L393,443" stroke="#c0302a" stroke-width="1.3"/>
<rect x="397.4" y="444.7" width="6.5" height="2.5" fill="#e0c020"/>
<path d="M404,435.5 L415,433" stroke="#1e1e1e" stroke-width="2.2"/>
<circle cx="301" cy="445.3" r="21" fill="#c8c2b6" opacity="0.2"/>
<circle cx="301" cy="445.3" r="21.2" fill="none" stroke="#141414" stroke-width="3.1"/>
<circle cx="301" cy="445.3" r="19" fill="none" stroke="#8a8a88" stroke-width="0.5"/>
<g stroke="#a09e9a" stroke-width="0.3">
<path d="M301,445.3 L320.00,445.30"/>
<path d="M301,445.3 L318.55,452.57"/>
<path d="M301,445.3 L314.44,458.74"/>
<path d="M301,445.3 L308.27,462.85"/>
<path d="M301,445.3 L301.00,464.30"/>
<path d="M301,445.3 L293.73,462.85"/>
<path d="M301,445.3 L287.56,458.74"/>
<path d="M301,445.3 L283.45,452.57"/>
<path d="M301,445.3 L282.00,445.30"/>
<path d="M301,445.3 L283.45,438.03"/>
<path d="M301,445.3 L287.56,431.86"/>
<path d="M301,445.3 L293.73,427.75"/>
<path d="M301,445.3 L301.00,426.30"/>
<path d="M301,445.3 L308.27,427.75"/>
<path d="M301,445.3 L314.44,431.86"/>
<path d="M301,445.3 L318.55,438.03"/>
</g>
<ellipse cx="309" cy="446.5" rx="9" ry="8" fill="#3e3c38"/>
<ellipse cx="305" cy="447" rx="4" ry="4" fill="#5a5854"/>
<rect x="303" y="437.5" width="5.5" height="3.5" fill="#d8b820"/>
<rect x="312" y="452" width="3" height="3" fill="#d8b820"/>
<circle cx="394.5" cy="462" r="12.6" fill="#e2e2e0"/>
<circle cx="394.5" cy="462" r="12.6" fill="none" stroke="#151515" stroke-width="2.6"/>
<circle cx="394.5" cy="462" r="3.6" fill="#2a2a2a"/>
</g></g>
<rect x="245.5" y="362.5" width="229.3" height="171.70000000000005" fill="none" stroke="#111" stroke-width="1.1"/>
<g fill="none" stroke="#1a1a1a" stroke-width="1.3" stroke-linejoin="miter">
<path d="M47.3,11 C49,13.2 51.5,13 53.5,11 C55.5,9 58.5,8 61.8,9.6" />
<path d="M47.3,11 V128.7" />
<path d="M46.8,128.7 C48,131.2 51,131.2 53,129.2 C55,127 58,126.5 61.2,127.9" />
<path d="M61.8,9.6 V84.3" />
<path d="M62.1,74 L62.3,84.5" stroke-width="2.1" />
<path d="M61.2,98.8 V127.9" />
<path d="M47.3,29.6 H22 V47.3 H47.3" />
<path d="M61.8,61 H124" />
<path d="M169,60.8 H174.5" />
<path d="M119.7,61 V82.4 H89.8 V75 H63" />
<path d="M61.2,98.8 H161.3" />
</g>
<g fill="none" stroke="#1a1a1a" stroke-width="1.6">
<rect x="63.4" y="61.3" width="22.3" height="12.5" />
<path d="M74.6,61.3 V73.8" />
</g>
<g fill="none" stroke="#1a1a1a" stroke-width="1.1">
<path d="M63.4,61.3 L74.6,73.8 M74.6,61.3 L63.4,73.8 M74.6,61.3 L85.7,73.8 M85.7,61.3 L74.6,73.8" />
</g>
<rect x="175.3" y="61.0" width="27.69999999999999" height="19.599999999999994" fill="#ffffff" />
<rect x="175.90" y="61.0" width="1.57" height="19.599999999999994" fill="#5d9ee6" />
<rect x="178.67" y="61.0" width="1.57" height="19.599999999999994" fill="#5d9ee6" />
<rect x="181.44" y="61.0" width="1.57" height="19.599999999999994" fill="#5d9ee6" />
<rect x="184.21" y="61.0" width="1.57" height="19.599999999999994" fill="#5d9ee6" />
<rect x="186.98" y="61.0" width="1.57" height="19.599999999999994" fill="#5d9ee6" />
<rect x="189.75" y="61.0" width="1.57" height="19.599999999999994" fill="#5d9ee6" />
<rect x="192.52" y="61.0" width="1.57" height="19.599999999999994" fill="#5d9ee6" />
<rect x="195.29" y="61.0" width="1.57" height="19.599999999999994" fill="#5d9ee6" />
<rect x="198.06" y="61.0" width="1.57" height="19.599999999999994" fill="#5d9ee6" />
<rect x="200.83" y="61.0" width="1.57" height="19.599999999999994" fill="#5d9ee6" />
<rect x="175.3" y="69.6" width="27.69999999999999" height="2.200000000000003" fill="#1a1a1a" />
<rect x="175.3" y="61.0" width="27.69999999999999" height="19.599999999999994" fill="none" stroke="#1a1a1a" stroke-width="1.2" />
<rect x="174.6" y="61" width="1.8" height="19.6" fill="#1a1a1a" />
<rect x="66.3" y="105.8" width="19.200000000000003" height="14.799999999999997" fill="#ffffff" />
<rect x="66.90" y="105.8" width="1.54" height="14.799999999999997" fill="#5d9ee6" />
<rect x="69.64" y="105.8" width="1.54" height="14.799999999999997" fill="#5d9ee6" />
<rect x="72.39" y="105.8" width="1.54" height="14.799999999999997" fill="#5d9ee6" />
<rect x="75.13" y="105.8" width="1.54" height="14.799999999999997" fill="#5d9ee6" />
<rect x="77.87" y="105.8" width="1.54" height="14.799999999999997" fill="#5d9ee6" />
<rect x="80.61" y="105.8" width="1.54" height="14.799999999999997" fill="#5d9ee6" />
<rect x="83.36" y="105.8" width="1.54" height="14.799999999999997" fill="#5d9ee6" />
<rect x="66.3" y="112.3" width="19.200000000000003" height="1.7000000000000028" fill="#1a1a1a" />
<rect x="66.3" y="105.8" width="19.200000000000003" height="14.799999999999997" fill="none" stroke="#1a1a1a" stroke-width="1.2" />
<rect x="169.2" y="79.7" width="5.4" height="5.5" fill="#fff" stroke="#1a1a1a" stroke-width="1.1" />
<rect x="124.3" y="59.2" width="44.3" height="3.1" rx="0.8" fill="#eef8e6" stroke="#56b545" stroke-width="1.15" />
<path d="M112.4,22.8 V27.8 H156.1 V22.8" fill="none" stroke="#444" stroke-width="0.9" />
<g fill="none" stroke="#2e75b6" stroke-width="1.45" stroke-dasharray="2.8 2.1">
<path d="M33.5,41.7 H57 V91.2 H154.5" />
<path d="M154.5,91.2 C151.5,90.5 151.8,84 155,82 C158,80 162.5,82 162.6,85 C162.4,88.8 159,91.8 154.5,91.2 Z" />
<path d="M158.5,81.8 C157.5,77.5 160,74.5 163.5,74.5 C166.5,74.5 168.2,77 167.4,79.8 C166.5,82.8 163,84.6 160.5,83.6" />
</g>
<path d="M33.6,22 L43.5,35" stroke="#2e75b6" stroke-width="1.0" fill="none"/>
<path d="M46.6,40.6 L40.4,35.6 L45.2,32.4 Z" fill="#2e75b6"/>
<path d="M148.6,48 L147.4,55" stroke="#2e75b6" stroke-width="1.0" fill="none"/>
<path d="M146.4,59.3 L144.2,53.4 L150.2,54.2 Z" fill="#2e75b6"/>
<path d="M57.2,19.2 C58.5,15 61,15.3 62.5,18.6 C64,21.8 66.5,22.5 68.7,18.3" fill="none" stroke="#1f5fa8" stroke-width="1.1"/>
<circle cx="30.9" cy="41.6" r="1.9" fill="#111"/>
<circle cx="47.5" cy="41.7" r="2.3" fill="none" stroke="#6cc24a" stroke-width="1.1"/>
<g font-family='"Liberation Serif", serif' stroke="#222" stroke-width="0.18">
<text x="15.20" y="21.90" font-size="8.5" text-anchor="start" fill="#222" font-weight="normal" textLength="20.8" lengthAdjust="spacingAndGlyphs">Mirror</text>
<text x="69.90" y="22.50" font-size="8.5" text-anchor="start" fill="#222" font-weight="normal" textLength="30.8" lengthAdjust="spacingAndGlyphs">Corridor</text>
<text x="125.40" y="22.60" font-size="8.3" text-anchor="start" fill="#222" font-weight="normal" textLength="15.9" lengthAdjust="spacingAndGlyphs">10 m</text>
<text x="26.60" y="57.80" font-size="8.5" text-anchor="start" fill="#222" font-weight="normal" textLength="12.7" lengthAdjust="spacingAndGlyphs">Lab</text>
<text x="66.40" y="58.60" font-size="8.5" text-anchor="start" fill="#222" font-weight="normal" textLength="32.7" lengthAdjust="spacingAndGlyphs">Elevators</text>
<text x="137.40" y="47.00" font-size="8.5" text-anchor="start" fill="#222" font-weight="normal" textLength="33.5" lengthAdjust="spacingAndGlyphs">Windows</text>
<text x="180.40" y="58.90" font-size="8.5" text-anchor="start" fill="#222" font-weight="normal" textLength="20" lengthAdjust="spacingAndGlyphs">Stairs</text>
<text x="142.30" y="78.60" font-size="8.5" text-anchor="start" fill="#222" font-weight="normal" textLength="14.5" lengthAdjust="spacingAndGlyphs">Hall</text>
<text x="86.10" y="116.70" font-size="8.5" text-anchor="start" fill="#222" font-weight="normal" textLength="19.5" lengthAdjust="spacingAndGlyphs">Stairs</text>
</g>
<g font-family='"Liberation Serif", serif' font-size="10.2" fill="#111">
<text x="109.3" y="148.8" text-anchor="middle">(<tspan font-weight="bold">a</tspan>)</text>
<text x="360.5" y="148.7" text-anchor="middle">(<tspan font-weight="bold">b</tspan>)</text>
<text x="109.5" y="359.0" text-anchor="middle">(<tspan font-weight="bold">c</tspan>)</text>
<text x="360.6" y="327.8" text-anchor="middle">(<tspan font-weight="bold">d</tspan>)</text>
<text x="109.6" y="547.0" text-anchor="middle">(<tspan font-weight="bold">e</tspan>)</text>
<text x="360.5" y="547.3" text-anchor="middle">(<tspan font-weight="bold">f</tspan>)</text>
</g>
</svg>
</body></html>
